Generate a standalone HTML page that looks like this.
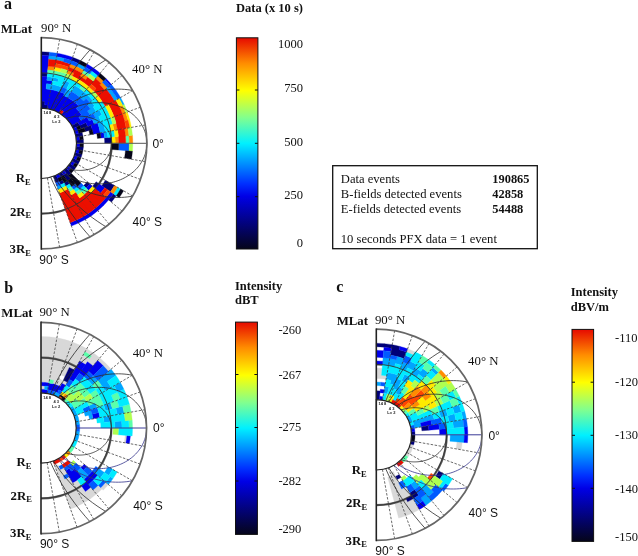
<!DOCTYPE html><html><head><meta charset="utf-8"><style>html,body{margin:0;padding:0;background:#fff;}svg{display:block;}</style></head><body>
<svg width="638" height="556" viewBox="0 0 638 556">
<defs><linearGradient id="cm" x1="0" y1="1" x2="0" y2="0"><stop offset="0" stop-color="#05051a"/><stop offset="0.25" stop-color="#0000e6"/><stop offset="0.31" stop-color="#0030ff"/><stop offset="0.5" stop-color="#00f0ff"/><stop offset="0.62" stop-color="#80ff90"/><stop offset="0.75" stop-color="#ffff00"/><stop offset="0.88" stop-color="#ff8c00"/><stop offset="1.0" stop-color="#e60a00"/></linearGradient></defs>
<rect width="638" height="556" fill="#fff"/>
<path d="M41.30 72.90A70.40 70.40 0 0 1 41.30 213.70" stroke="#5e5e5e" stroke-width="2.2" fill="none"/>
<path fill="#000078" stroke="#000078" stroke-width="0.3" d="M41.30 108.10A35.20 35.20 0 0 1 44.37 108.23L44.98 101.22A42.24 42.24 0 0 0 41.30 101.06ZM41.30 76.42A66.88 66.88 0 0 1 47.13 76.67L47.44 73.17A70.40 70.40 0 0 0 41.30 72.90ZM41.30 55.30A88.00 88.00 0 0 1 48.97 55.63L49.28 52.13A91.52 91.52 0 0 0 41.30 51.78ZM44.37 108.23A35.20 35.20 0 0 1 47.41 108.63L48.02 105.17A38.72 38.72 0 0 0 44.67 104.73ZM71.40 60.61A88.00 88.00 0 0 1 78.49 63.54L79.98 60.35A91.52 91.52 0 0 0 72.60 57.30ZM71.78 125.70A35.20 35.20 0 0 1 73.20 128.42L79.58 125.45A42.24 42.24 0 0 0 77.88 122.18ZM79.58 125.45A42.24 42.24 0 0 1 80.99 128.85L87.61 126.45A49.28 49.28 0 0 0 85.96 122.47ZM84.30 127.65A45.76 45.76 0 0 1 85.50 131.46L92.30 129.63A52.80 52.80 0 0 0 90.92 125.24ZM75.30 134.19A35.20 35.20 0 0 1 75.97 137.19L82.90 135.97A42.24 42.24 0 0 0 82.10 132.37ZM76.37 140.23A35.20 35.20 0 0 1 76.50 143.30L83.54 143.30A42.24 42.24 0 0 0 83.38 139.62ZM104.42 137.78A63.36 63.36 0 0 1 104.66 143.30L111.70 143.30A70.40 70.40 0 0 0 111.43 137.16ZM76.37 146.37A35.20 35.20 0 0 1 75.97 149.41L82.90 150.63A42.24 42.24 0 0 0 83.38 146.98ZM75.30 152.41A35.20 35.20 0 0 1 74.38 155.34L80.99 157.75A42.24 42.24 0 0 0 82.10 154.23ZM73.20 158.18A35.20 35.20 0 0 1 71.78 160.90L77.88 164.42A42.24 42.24 0 0 0 79.58 161.15ZM105.32 180.26A73.92 73.92 0 0 1 101.85 185.70L110.50 191.76A84.48 84.48 0 0 0 114.46 185.54ZM70.13 163.49A35.20 35.20 0 0 1 68.26 165.93L73.66 170.45A42.24 42.24 0 0 0 75.90 167.53ZM96.08 181.66A66.88 66.88 0 0 1 92.53 186.29L95.23 188.55A70.40 70.40 0 0 0 98.97 183.68ZM113.39 193.77A88.00 88.00 0 0 1 108.71 199.87L111.41 202.13A91.52 91.52 0 0 0 116.27 195.79ZM87.14 181.76A59.84 59.84 0 0 1 83.61 185.61L86.10 188.10A63.36 63.36 0 0 0 89.84 184.03ZM66.19 168.19A35.20 35.20 0 0 1 63.93 170.26L68.45 175.66A42.24 42.24 0 0 0 71.17 173.17ZM66.19 172.96A38.72 38.72 0 0 1 63.51 175.02L67.55 180.78A45.76 45.76 0 0 0 70.71 178.35ZM61.49 172.13A35.20 35.20 0 0 1 58.90 173.78L60.66 176.83A38.72 38.72 0 0 0 63.51 175.02ZM67.55 180.78A45.76 45.76 0 0 1 64.18 182.93L65.94 185.98A49.28 49.28 0 0 0 69.57 183.67ZM62.42 179.88A42.24 42.24 0 0 1 59.15 181.58L60.64 184.77A45.76 45.76 0 0 0 64.18 182.93ZM56.18 175.20A35.20 35.20 0 0 1 53.34 176.38L55.75 182.99A42.24 42.24 0 0 0 59.15 181.58Z"/>
<path fill="#0000ee" stroke="#0000ee" stroke-width="0.3" d="M41.30 101.06A42.24 42.24 0 0 1 44.98 101.22L47.13 76.67A66.88 66.88 0 0 0 41.30 76.42ZM41.30 72.90A70.40 70.40 0 0 1 47.44 73.17L48.97 55.63A88.00 88.00 0 0 0 41.30 55.30ZM44.67 104.73A38.72 38.72 0 0 1 48.02 105.17L50.77 89.57A54.56 54.56 0 0 0 46.06 88.95ZM46.52 83.69A59.84 59.84 0 0 1 51.69 84.37L52.30 80.90A63.36 63.36 0 0 0 46.82 80.18ZM47.41 108.63A35.20 35.20 0 0 1 50.41 109.30L55.42 90.60A54.56 54.56 0 0 0 50.77 89.57ZM56.58 56.64A88.00 88.00 0 0 1 64.08 58.30L64.99 54.90A91.52 91.52 0 0 0 57.19 53.17ZM50.41 109.30A35.20 35.20 0 0 1 53.34 110.22L59.96 92.03A54.56 54.56 0 0 0 55.42 90.60ZM64.08 58.30A88.00 88.00 0 0 1 71.40 60.61L72.60 57.30A91.52 91.52 0 0 0 64.99 54.90ZM53.34 110.22A35.20 35.20 0 0 1 56.18 111.40L64.36 93.85A54.56 54.56 0 0 0 59.96 92.03ZM56.18 111.40A35.20 35.20 0 0 1 58.90 112.82L67.70 97.57A52.80 52.80 0 0 0 63.61 95.45ZM60.66 109.77A38.72 38.72 0 0 1 63.51 111.58L71.58 100.05A52.80 52.80 0 0 0 67.70 97.57ZM85.30 67.09A88.00 88.00 0 0 1 91.77 71.21L93.79 68.33A91.52 91.52 0 0 0 87.06 64.04ZM61.49 114.47A35.20 35.20 0 0 1 63.93 116.34L75.24 102.85A52.80 52.80 0 0 0 71.58 100.05ZM91.77 71.21A88.00 88.00 0 0 1 97.87 75.89L100.13 73.19A91.52 91.52 0 0 0 93.79 68.33ZM63.93 116.34A35.20 35.20 0 0 1 66.19 118.41L78.64 105.96A52.80 52.80 0 0 0 75.24 102.85ZM66.19 118.41A35.20 35.20 0 0 1 68.26 120.67L79.05 111.62A49.28 49.28 0 0 0 76.15 108.45ZM104.77 79.83A89.76 89.76 0 0 1 110.06 85.60L111.41 84.47A91.52 91.52 0 0 0 106.01 78.59ZM68.26 120.67A35.20 35.20 0 0 1 70.13 123.11L81.67 115.03A49.28 49.28 0 0 0 79.05 111.62ZM70.13 123.11A35.20 35.20 0 0 1 71.78 125.70L80.93 120.42A45.76 45.76 0 0 0 78.78 117.05ZM77.88 122.18A42.24 42.24 0 0 1 79.58 125.45L89.15 120.99A52.80 52.80 0 0 0 87.03 116.90ZM73.20 128.42A35.20 35.20 0 0 1 74.38 131.26L77.68 130.06A38.72 38.72 0 0 0 76.39 126.94ZM85.96 122.47A49.28 49.28 0 0 1 87.61 126.45L94.22 124.04A56.32 56.32 0 0 0 92.34 119.50ZM74.38 131.26A35.20 35.20 0 0 1 75.30 134.19L78.70 133.28A38.72 38.72 0 0 0 77.68 130.06ZM90.92 125.24A52.80 52.80 0 0 1 92.30 129.63L99.10 127.81A59.84 59.84 0 0 0 97.53 122.83ZM92.30 129.63A52.80 52.80 0 0 1 93.30 134.13L100.23 132.91A59.84 59.84 0 0 0 99.10 127.81ZM75.97 137.19A35.20 35.20 0 0 1 76.37 140.23L79.87 139.93A38.72 38.72 0 0 0 79.43 136.58ZM100.23 132.91A59.84 59.84 0 0 1 100.91 138.08L104.42 137.78A63.36 63.36 0 0 0 103.70 132.30ZM76.50 143.30A35.20 35.20 0 0 1 76.37 146.37L79.87 146.67A38.72 38.72 0 0 0 80.02 143.30ZM75.97 149.41A35.20 35.20 0 0 1 75.30 152.41L78.70 153.32A38.72 38.72 0 0 0 79.43 150.02ZM74.38 155.34A35.20 35.20 0 0 1 73.20 158.18L76.39 159.66A38.72 38.72 0 0 0 77.68 156.54ZM71.78 160.90A35.20 35.20 0 0 1 70.13 163.49L73.02 165.51A38.72 38.72 0 0 0 74.83 162.66ZM98.97 183.68A70.40 70.40 0 0 1 95.23 188.55L100.62 193.08A77.44 77.44 0 0 0 104.74 187.72ZM110.50 191.76A84.48 84.48 0 0 1 106.02 197.60L108.71 199.87A88.00 88.00 0 0 0 113.39 193.77ZM68.26 165.93A35.20 35.20 0 0 1 66.19 168.19L68.68 170.68A38.72 38.72 0 0 0 70.96 168.19ZM89.84 184.03A63.36 63.36 0 0 1 86.10 188.10L88.59 190.59A66.88 66.88 0 0 0 92.53 186.29ZM106.02 197.60A84.48 84.48 0 0 1 101.04 203.04L103.53 205.53A88.00 88.00 0 0 0 108.71 199.87ZM101.04 203.04A84.48 84.48 0 0 1 95.60 208.02L97.87 210.71A88.00 88.00 0 0 0 103.53 205.53ZM63.93 170.26A35.20 35.20 0 0 1 61.49 172.13L63.51 175.02A38.72 38.72 0 0 0 66.19 172.96ZM95.60 208.02A84.48 84.48 0 0 1 89.76 212.50L91.77 215.39A88.00 88.00 0 0 0 97.87 210.71ZM89.76 212.50A84.48 84.48 0 0 1 83.54 216.46L85.30 219.51A88.00 88.00 0 0 0 91.77 215.39ZM58.90 173.78A35.20 35.20 0 0 1 56.18 175.20L57.66 178.39A38.72 38.72 0 0 0 60.66 176.83ZM83.54 216.46A84.48 84.48 0 0 1 77.00 219.86L78.49 223.06A88.00 88.00 0 0 0 85.30 219.51ZM77.00 219.86A84.48 84.48 0 0 1 70.19 222.69L71.40 225.99A88.00 88.00 0 0 0 78.49 223.06Z"/>
<path fill="#00a5ff" stroke="#00a5ff" stroke-width="0.3" d="M46.06 88.95A54.56 54.56 0 0 1 50.77 89.57L51.69 84.37A59.84 59.84 0 0 0 46.52 83.69ZM46.82 80.18A63.36 63.36 0 0 1 52.30 80.90L52.91 77.44A66.88 66.88 0 0 0 47.13 76.67ZM48.66 59.14A84.48 84.48 0 0 1 55.97 60.10L56.58 56.64A88.00 88.00 0 0 0 48.97 55.63ZM50.77 89.57A54.56 54.56 0 0 1 55.42 90.60L56.79 85.50A59.84 59.84 0 0 0 51.69 84.37ZM52.30 80.90A63.36 63.36 0 0 1 57.70 82.10L58.61 78.70A66.88 66.88 0 0 0 52.91 77.44ZM55.97 60.10A84.48 84.48 0 0 1 63.17 61.70L64.08 58.30A88.00 88.00 0 0 0 56.58 56.64ZM55.42 90.60A54.56 54.56 0 0 1 59.96 92.03L61.77 87.07A59.84 59.84 0 0 0 56.79 85.50ZM61.77 87.07A59.84 59.84 0 0 1 66.59 89.07L69.56 82.69A66.88 66.88 0 0 0 64.17 80.45ZM63.61 95.45A52.80 52.80 0 0 1 67.70 97.57L71.22 91.48A59.84 59.84 0 0 0 66.59 89.07ZM77.00 66.74A84.48 84.48 0 0 1 83.54 70.14L85.30 67.09A88.00 88.00 0 0 0 78.49 63.54ZM71.22 91.48A59.84 59.84 0 0 1 75.62 94.28L79.66 88.52A66.88 66.88 0 0 0 74.74 85.38ZM75.62 94.28A59.84 59.84 0 0 1 79.76 97.46L84.29 92.07A66.88 66.88 0 0 0 79.66 88.52ZM79.76 97.46A59.84 59.84 0 0 1 83.61 100.99L88.59 96.01A66.88 66.88 0 0 0 84.29 92.07ZM86.10 98.50A63.36 63.36 0 0 1 89.84 102.57L92.53 100.31A66.88 66.88 0 0 0 88.59 96.01ZM87.14 104.84A59.84 59.84 0 0 1 90.32 108.98L94.64 105.95A65.12 65.12 0 0 0 91.18 101.44ZM106.02 89.00A84.48 84.48 0 0 1 110.50 94.84L113.39 92.83A88.00 88.00 0 0 0 108.71 86.73ZM87.43 111.00A56.32 56.32 0 0 1 90.07 115.14L96.17 111.62A63.36 63.36 0 0 0 93.20 106.96ZM110.50 94.84A84.48 84.48 0 0 1 114.46 101.06L117.51 99.30A88.00 88.00 0 0 0 113.39 92.83ZM93.12 113.38A59.84 59.84 0 0 1 95.53 118.01L101.91 115.04A66.88 66.88 0 0 0 99.22 109.86ZM119.03 98.42A89.76 89.76 0 0 1 122.65 105.37L124.25 104.62A91.52 91.52 0 0 0 120.56 97.54ZM92.34 119.50A56.32 56.32 0 0 1 94.22 124.04L100.84 121.63A63.36 63.36 0 0 0 98.72 116.52ZM97.53 122.83A59.84 59.84 0 0 1 99.10 127.81L104.20 126.45A65.12 65.12 0 0 0 102.49 121.03ZM99.10 127.81A59.84 59.84 0 0 1 100.23 132.91L105.43 131.99A65.12 65.12 0 0 0 104.20 126.45ZM103.70 132.30A63.36 63.36 0 0 1 104.42 137.78L107.93 137.47A66.88 66.88 0 0 0 107.16 131.69ZM60.64 184.77A45.76 45.76 0 0 1 56.95 186.30L58.15 189.61A49.28 49.28 0 0 0 62.13 187.96Z"/>
<path fill="#00ebff" stroke="#00ebff" stroke-width="0.3" d="M47.13 76.67A66.88 66.88 0 0 1 52.91 77.44L53.52 73.97A70.40 70.40 0 0 0 47.44 73.17ZM51.69 84.37A59.84 59.84 0 0 1 56.79 85.50L57.70 82.10A63.36 63.36 0 0 0 52.30 80.90ZM52.91 77.44A66.88 66.88 0 0 1 58.61 78.70L59.52 75.30A70.40 70.40 0 0 0 53.52 73.97ZM56.79 85.50A59.84 59.84 0 0 1 61.77 87.07L65.38 77.15A70.40 70.40 0 0 0 59.52 75.30ZM64.17 80.45A66.88 66.88 0 0 1 69.56 82.69L71.05 79.50A70.40 70.40 0 0 0 65.38 77.15ZM66.59 89.07A59.84 59.84 0 0 1 71.22 91.48L76.50 82.33A70.40 70.40 0 0 0 71.05 79.50ZM74.74 85.38A66.88 66.88 0 0 1 79.66 88.52L81.68 85.63A70.40 70.40 0 0 0 76.50 82.33ZM89.76 74.10A84.48 84.48 0 0 1 95.60 78.58L97.87 75.89A88.00 88.00 0 0 0 91.77 71.21ZM84.29 92.07A66.88 66.88 0 0 1 88.59 96.01L91.08 93.52A70.40 70.40 0 0 0 86.55 89.37ZM88.59 96.01A66.88 66.88 0 0 1 92.53 100.31L95.23 98.05A70.40 70.40 0 0 0 91.08 93.52ZM91.18 101.44A65.12 65.12 0 0 1 94.64 105.95L98.97 102.92A70.40 70.40 0 0 0 95.23 98.05ZM93.20 106.96A63.36 63.36 0 0 1 96.17 111.62L105.32 106.34A73.92 73.92 0 0 0 101.85 100.90ZM99.22 109.86A66.88 66.88 0 0 1 101.91 115.04L108.29 112.06A73.92 73.92 0 0 0 105.32 106.34ZM98.72 116.52A63.36 63.36 0 0 1 100.84 121.63L110.76 118.02A73.92 73.92 0 0 0 108.29 112.06ZM102.49 121.03A65.12 65.12 0 0 1 104.20 126.45L112.70 124.17A73.92 73.92 0 0 0 110.76 118.02ZM104.20 126.45A65.12 65.12 0 0 1 105.43 131.99L110.63 131.08A70.40 70.40 0 0 0 109.30 125.08ZM107.16 131.69A66.88 66.88 0 0 1 107.93 137.47L114.94 136.86A73.92 73.92 0 0 0 114.10 130.46ZM117.51 187.30A88.00 88.00 0 0 1 113.39 193.77L116.27 195.79A91.52 91.52 0 0 0 120.56 189.06ZM83.61 185.61A59.84 59.84 0 0 1 79.76 189.14L82.03 191.84A63.36 63.36 0 0 0 86.10 188.10ZM77.50 186.44A56.32 56.32 0 0 1 73.60 189.43L75.62 192.32A59.84 59.84 0 0 0 79.76 189.14ZM69.57 183.67A49.28 49.28 0 0 1 65.94 185.98L67.70 189.03A52.80 52.80 0 0 0 71.58 186.55ZM64.18 182.93A45.76 45.76 0 0 1 60.64 184.77L62.13 187.96A49.28 49.28 0 0 0 65.94 185.98Z"/>
<path fill="#5affaa" stroke="#5affaa" stroke-width="0.3" d="M47.44 73.17A70.40 70.40 0 0 1 53.52 73.97L54.14 70.50A73.92 73.92 0 0 0 47.74 69.66ZM53.52 73.97A70.40 70.40 0 0 1 59.52 75.30L60.43 71.90A73.92 73.92 0 0 0 54.14 70.50ZM59.52 75.30A70.40 70.40 0 0 1 65.38 77.15L66.58 73.84A73.92 73.92 0 0 0 60.43 71.90ZM81.78 73.19A80.96 80.96 0 0 1 87.74 76.98L89.76 74.10A84.48 84.48 0 0 0 83.54 70.14ZM79.66 88.52A66.88 66.88 0 0 1 84.29 92.07L86.55 89.37A70.40 70.40 0 0 0 81.68 85.63ZM125.46 135.94A84.48 84.48 0 0 1 125.78 143.30L129.30 143.30A88.00 88.00 0 0 0 128.97 135.63ZM86.10 188.10A63.36 63.36 0 0 1 82.03 191.84L84.29 194.53A66.88 66.88 0 0 0 88.59 190.59ZM79.76 189.14A59.84 59.84 0 0 1 75.62 192.32L77.64 195.20A63.36 63.36 0 0 0 82.03 191.84ZM71.58 186.55A52.80 52.80 0 0 1 67.70 189.03L69.46 192.07A56.32 56.32 0 0 0 73.60 189.43Z"/>
<path fill="#ff8c00" stroke="#ff8c00" stroke-width="0.3" d="M47.74 69.66A73.92 73.92 0 0 1 54.14 70.50L54.75 67.04A77.44 77.44 0 0 0 48.05 66.15ZM66.58 73.84A73.92 73.92 0 0 1 72.54 76.31L74.03 73.12A77.44 77.44 0 0 0 67.79 70.53ZM68.99 67.22A80.96 80.96 0 0 1 75.52 69.93L77.00 66.74A84.48 84.48 0 0 0 70.19 63.91ZM75.52 69.93A80.96 80.96 0 0 1 81.78 73.19L83.54 70.14A84.48 84.48 0 0 0 77.00 66.74ZM80.02 76.23A77.44 77.44 0 0 1 85.72 79.86L87.74 76.98A80.96 80.96 0 0 0 81.78 73.19ZM95.60 78.58A84.48 84.48 0 0 1 101.04 83.56L103.53 81.07A88.00 88.00 0 0 0 97.87 75.89ZM99.79 84.81A82.72 82.72 0 0 1 104.67 90.13L107.36 87.87A86.24 86.24 0 0 0 102.28 82.32ZM119.46 106.85A86.24 86.24 0 0 1 122.34 113.80L125.65 112.60A89.76 89.76 0 0 0 122.65 105.37ZM122.34 113.80A86.24 86.24 0 0 1 124.60 120.98L128.00 120.07A89.76 89.76 0 0 0 125.65 112.60ZM112.70 124.17A73.92 73.92 0 0 1 114.10 130.46L117.56 129.85A77.44 77.44 0 0 0 116.10 123.26ZM124.50 128.63A84.48 84.48 0 0 1 125.46 135.94L128.97 135.63A88.00 88.00 0 0 0 127.96 128.02ZM114.94 136.86A73.92 73.92 0 0 1 115.22 143.30L118.74 143.30A77.44 77.44 0 0 0 118.45 136.55ZM128.97 135.63A88.00 88.00 0 0 1 129.30 143.30L132.82 143.30A91.52 91.52 0 0 0 132.47 135.32ZM114.46 185.54A84.48 84.48 0 0 1 110.50 191.76L113.39 193.77A88.00 88.00 0 0 0 117.51 187.30Z"/>
<path fill="#eb0f00" stroke="#eb0f00" stroke-width="0.3" d="M48.05 66.15A77.44 77.44 0 0 1 54.75 67.04L55.97 60.10A84.48 84.48 0 0 0 48.66 59.14ZM55.36 63.57A80.96 80.96 0 0 1 62.25 65.10L63.17 61.70A84.48 84.48 0 0 0 55.97 60.10ZM62.25 65.10A80.96 80.96 0 0 1 68.99 67.22L70.19 63.91A84.48 84.48 0 0 0 63.17 61.70ZM67.79 70.53A77.44 77.44 0 0 1 74.03 73.12L75.52 69.93A80.96 80.96 0 0 0 68.99 67.22ZM72.54 76.31A73.92 73.92 0 0 1 78.26 79.28L81.78 73.19A80.96 80.96 0 0 0 75.52 69.93ZM58.90 112.82A35.20 35.20 0 0 1 61.49 114.47L63.51 111.58A38.72 38.72 0 0 0 60.66 109.77ZM78.26 79.28A73.92 73.92 0 0 1 83.70 82.75L85.72 79.86A77.44 77.44 0 0 0 80.02 76.23ZM83.70 82.75A73.92 73.92 0 0 1 88.81 86.67L93.34 81.28A80.96 80.96 0 0 0 87.74 76.98ZM91.08 83.98A77.44 77.44 0 0 1 96.06 88.54L101.04 83.56A84.48 84.48 0 0 0 95.60 78.58ZM93.57 91.03A73.92 73.92 0 0 1 97.93 95.79L104.67 90.13A82.72 82.72 0 0 0 99.79 84.81ZM97.93 95.79A73.92 73.92 0 0 1 101.85 100.90L110.50 94.84A84.48 84.48 0 0 0 106.02 89.00ZM101.85 100.90A73.92 73.92 0 0 1 105.32 106.34L114.46 101.06A84.48 84.48 0 0 0 110.50 94.84ZM108.37 104.58A77.44 77.44 0 0 1 111.48 110.57L119.46 106.85A86.24 86.24 0 0 0 115.99 100.18ZM111.48 110.57A77.44 77.44 0 0 1 114.07 116.81L122.34 113.80A86.24 86.24 0 0 0 119.46 106.85ZM114.07 116.81A77.44 77.44 0 0 1 116.10 123.26L124.60 120.98A86.24 86.24 0 0 0 122.34 113.80ZM116.10 123.26A77.44 77.44 0 0 1 117.56 129.85L126.23 128.32A86.24 86.24 0 0 0 124.60 120.98ZM117.56 129.85A77.44 77.44 0 0 1 118.45 136.55L125.46 135.94A84.48 84.48 0 0 0 124.50 128.63ZM118.45 136.55A77.44 77.44 0 0 1 118.74 143.30L125.78 143.30A84.48 84.48 0 0 0 125.46 135.94ZM104.74 187.72A77.44 77.44 0 0 1 100.62 193.08L103.32 195.34A80.96 80.96 0 0 0 107.62 189.74ZM95.23 188.55A70.40 70.40 0 0 1 91.08 193.08L101.04 203.04A84.48 84.48 0 0 0 106.02 197.60ZM88.59 190.59A66.88 66.88 0 0 1 84.29 194.53L95.60 208.02A84.48 84.48 0 0 0 101.04 203.04ZM84.29 194.53A66.88 66.88 0 0 1 79.66 198.08L89.76 212.50A84.48 84.48 0 0 0 95.60 208.02ZM75.62 192.32A59.84 59.84 0 0 1 71.22 195.12L83.54 216.46A84.48 84.48 0 0 0 89.76 212.50ZM67.70 189.03A52.80 52.80 0 0 1 63.61 191.15L77.00 219.86A84.48 84.48 0 0 0 83.54 216.46ZM63.61 191.15A52.80 52.80 0 0 1 59.36 192.92L70.19 222.69A84.48 84.48 0 0 0 77.00 219.86Z"/>
<path fill="#005aff" stroke="#005aff" stroke-width="0.3" d="M48.97 55.63A88.00 88.00 0 0 1 56.58 56.64L57.19 53.17A91.52 91.52 0 0 0 49.28 52.13ZM63.17 61.70A84.48 84.48 0 0 1 70.19 63.91L71.40 60.61A88.00 88.00 0 0 0 64.08 58.30ZM59.96 92.03A54.56 54.56 0 0 1 64.36 93.85L66.59 89.07A59.84 59.84 0 0 0 61.77 87.07ZM70.19 63.91A84.48 84.48 0 0 1 77.00 66.74L78.49 63.54A88.00 88.00 0 0 0 71.40 60.61ZM67.70 97.57A52.80 52.80 0 0 1 71.58 100.05L75.62 94.28A59.84 59.84 0 0 0 71.22 91.48ZM83.54 70.14A84.48 84.48 0 0 1 89.76 74.10L91.77 71.21A88.00 88.00 0 0 0 85.30 67.09ZM71.58 100.05A52.80 52.80 0 0 1 75.24 102.85L79.76 97.46A59.84 59.84 0 0 0 75.62 94.28ZM75.24 102.85A52.80 52.80 0 0 1 78.64 105.96L83.61 100.99A59.84 59.84 0 0 0 79.76 97.46ZM76.15 108.45A49.28 49.28 0 0 1 79.05 111.62L89.84 102.57A63.36 63.36 0 0 0 86.10 98.50ZM102.28 82.32A86.24 86.24 0 0 1 107.36 87.87L110.06 85.60A89.76 89.76 0 0 0 104.77 79.83ZM79.05 111.62A49.28 49.28 0 0 1 81.67 115.03L90.32 108.98A59.84 59.84 0 0 0 87.14 104.84ZM108.71 86.73A88.00 88.00 0 0 1 113.39 92.83L116.27 90.81A91.52 91.52 0 0 0 111.41 84.47ZM78.78 117.05A45.76 45.76 0 0 1 80.93 120.42L90.07 115.14A56.32 56.32 0 0 0 87.43 111.00ZM113.39 92.83A88.00 88.00 0 0 1 117.51 99.30L120.56 97.54A91.52 91.52 0 0 0 116.27 90.81ZM87.03 116.90A52.80 52.80 0 0 1 89.15 120.99L95.53 118.01A59.84 59.84 0 0 0 93.12 113.38ZM118.74 143.30A77.44 77.44 0 0 1 118.45 150.05L128.97 150.97A88.00 88.00 0 0 0 129.30 143.30ZM81.12 183.12A56.32 56.32 0 0 1 77.50 186.44L79.76 189.14A59.84 59.84 0 0 0 83.61 185.61ZM75.24 183.75A52.80 52.80 0 0 1 71.58 186.55L73.60 189.43A56.32 56.32 0 0 0 77.50 186.44ZM59.15 181.58A42.24 42.24 0 0 1 55.75 182.99L56.95 186.30A45.76 45.76 0 0 0 60.64 184.77Z"/>
<path fill="#ffeb00" stroke="#ffeb00" stroke-width="0.3" d="M54.14 70.50A73.92 73.92 0 0 1 60.43 71.90L61.34 68.50A77.44 77.44 0 0 0 54.75 67.04ZM71.05 79.50A70.40 70.40 0 0 1 76.50 82.33L78.26 79.28A73.92 73.92 0 0 0 72.54 76.31ZM76.50 82.33A70.40 70.40 0 0 1 81.68 85.63L83.70 82.75A73.92 73.92 0 0 0 78.26 79.28ZM81.68 85.63A70.40 70.40 0 0 1 86.55 89.37L88.81 86.67A73.92 73.92 0 0 0 83.70 82.75ZM86.55 89.37A70.40 70.40 0 0 1 91.08 93.52L93.57 91.03A73.92 73.92 0 0 0 88.81 86.67ZM95.23 98.05A70.40 70.40 0 0 1 98.97 102.92L101.85 100.90A73.92 73.92 0 0 0 97.93 95.79ZM105.32 106.34A73.92 73.92 0 0 1 108.29 112.06L111.48 110.57A77.44 77.44 0 0 0 108.37 104.58ZM115.99 100.18A86.24 86.24 0 0 1 119.46 106.85L122.65 105.37A89.76 89.76 0 0 0 119.03 98.42ZM108.29 112.06A73.92 73.92 0 0 1 110.76 118.02L114.07 116.81A77.44 77.44 0 0 0 111.48 110.57ZM125.65 112.60A89.76 89.76 0 0 1 128.00 120.07L129.70 119.61A91.52 91.52 0 0 0 127.30 112.00ZM109.30 125.08A70.40 70.40 0 0 1 110.63 131.08L114.10 130.46A73.92 73.92 0 0 0 112.70 124.17ZM128.00 120.07A89.76 89.76 0 0 1 129.70 127.71L131.43 127.41A91.52 91.52 0 0 0 129.70 119.61ZM114.10 130.46A73.92 73.92 0 0 1 114.94 136.86L118.45 136.55A77.44 77.44 0 0 0 117.56 129.85ZM111.43 137.16A70.40 70.40 0 0 1 111.70 143.30L115.22 143.30A73.92 73.92 0 0 0 114.94 136.86ZM92.53 186.29A66.88 66.88 0 0 1 88.59 190.59L91.08 193.08A70.40 70.40 0 0 0 95.23 188.55ZM82.03 191.84A63.36 63.36 0 0 1 77.64 195.20L79.66 198.08A66.88 66.88 0 0 0 84.29 194.53ZM73.60 189.43A56.32 56.32 0 0 1 69.46 192.07L71.22 195.12A59.84 59.84 0 0 0 75.62 192.32ZM65.94 185.98A49.28 49.28 0 0 1 62.13 187.96L63.61 191.15A52.80 52.80 0 0 0 67.70 189.03ZM62.13 187.96A49.28 49.28 0 0 1 58.15 189.61L59.36 192.92A52.80 52.80 0 0 0 63.61 191.15Z"/>
<path fill="#ff4600" stroke="#ff4600" stroke-width="0.3" d="M54.75 67.04A77.44 77.44 0 0 1 61.34 68.50L62.25 65.10A80.96 80.96 0 0 0 55.36 63.57ZM61.34 68.50A77.44 77.44 0 0 1 67.79 70.53L68.99 67.22A80.96 80.96 0 0 0 62.25 65.10ZM88.81 86.67A73.92 73.92 0 0 1 93.57 91.03L96.06 88.54A77.44 77.44 0 0 0 91.08 83.98ZM124.60 120.98A86.24 86.24 0 0 1 126.23 128.32L129.70 127.71A89.76 89.76 0 0 0 128.00 120.07ZM107.62 189.74A80.96 80.96 0 0 1 103.32 195.34L106.02 197.60A84.48 84.48 0 0 0 110.50 191.76Z"/>
<path fill="#afff50" stroke="#afff50" stroke-width="0.3" d="M60.43 71.90A73.92 73.92 0 0 1 66.58 73.84L67.79 70.53A77.44 77.44 0 0 0 61.34 68.50ZM65.38 77.15A70.40 70.40 0 0 1 71.05 79.50L72.54 76.31A73.92 73.92 0 0 0 66.58 73.84ZM87.74 76.98A80.96 80.96 0 0 1 93.34 81.28L95.60 78.58A84.48 84.48 0 0 0 89.76 74.10ZM91.08 93.52A70.40 70.40 0 0 1 95.23 98.05L97.93 95.79A73.92 73.92 0 0 0 93.57 91.03ZM122.65 105.37A89.76 89.76 0 0 1 125.65 112.60L127.30 112.00A91.52 91.52 0 0 0 124.25 104.62ZM110.76 118.02A73.92 73.92 0 0 1 112.70 124.17L116.10 123.26A77.44 77.44 0 0 0 114.07 116.81ZM127.96 128.02A88.00 88.00 0 0 1 128.97 135.63L132.47 135.32A91.52 91.52 0 0 0 131.43 127.41ZM129.30 143.30A88.00 88.00 0 0 1 128.97 150.97L132.47 151.28A91.52 91.52 0 0 0 132.82 143.30Z"/>
<path fill="#050519" stroke="#050519" stroke-width="0.3" d="M78.49 63.54A88.00 88.00 0 0 1 85.30 67.09L87.06 64.04A91.52 91.52 0 0 0 79.98 60.35ZM97.87 75.89A88.00 88.00 0 0 1 103.53 81.07L106.01 78.59A91.52 91.52 0 0 0 100.13 73.19ZM76.39 126.94A38.72 38.72 0 0 1 77.68 130.06L80.99 128.85A42.24 42.24 0 0 0 79.58 125.45ZM77.68 130.06A38.72 38.72 0 0 1 78.70 133.28L85.50 131.46A45.76 45.76 0 0 0 84.30 127.65ZM88.90 130.55A49.28 49.28 0 0 1 89.83 134.74L93.30 134.13A52.80 52.80 0 0 0 92.30 129.63ZM79.43 136.58A38.72 38.72 0 0 1 79.87 139.93L83.38 139.62A42.24 42.24 0 0 0 82.90 135.97ZM96.76 133.52A56.32 56.32 0 0 1 97.41 138.39L100.91 138.08A59.84 59.84 0 0 0 100.23 132.91ZM80.02 143.30A38.72 38.72 0 0 1 79.87 146.67L83.38 146.98A42.24 42.24 0 0 0 83.54 143.30ZM111.70 143.30A70.40 70.40 0 0 1 111.43 149.44L118.45 150.05A77.44 77.44 0 0 0 118.74 143.30ZM125.46 150.66A84.48 84.48 0 0 1 124.50 157.97L131.43 159.19A91.52 91.52 0 0 0 132.47 151.28ZM79.43 150.02A38.72 38.72 0 0 1 78.70 153.32L82.10 154.23A42.24 42.24 0 0 0 82.90 150.63ZM77.68 156.54A38.72 38.72 0 0 1 76.39 159.66L79.58 161.15A42.24 42.24 0 0 0 80.99 157.75ZM74.83 162.66A38.72 38.72 0 0 1 73.02 165.51L75.90 167.53A42.24 42.24 0 0 0 77.88 164.42ZM120.56 189.06A91.52 91.52 0 0 1 116.27 195.79L119.15 197.81A95.04 95.04 0 0 0 123.61 190.82ZM70.96 168.19A38.72 38.72 0 0 1 68.68 170.68L71.17 173.17A42.24 42.24 0 0 0 73.66 170.45ZM71.17 173.17A42.24 42.24 0 0 1 68.45 175.66L77.50 186.44A56.32 56.32 0 0 0 81.12 183.12ZM70.71 178.35A45.76 45.76 0 0 1 67.55 180.78L71.58 186.55A52.80 52.80 0 0 0 75.24 183.75ZM63.51 175.02A38.72 38.72 0 0 1 60.66 176.83L64.18 182.93A45.76 45.76 0 0 0 67.55 180.78ZM60.66 176.83A38.72 38.72 0 0 1 57.66 178.39L59.15 181.58A42.24 42.24 0 0 0 62.42 179.88Z"/>
<path d="M47.41 177.97L59.64 247.30M53.34 176.38L77.42 242.53M58.90 173.78L94.10 234.75M63.93 170.26L109.18 224.19M68.26 165.93L122.19 211.18M71.78 160.90L132.75 196.10M74.38 155.34L140.53 179.42M75.97 149.41L145.30 161.64M75.97 137.19L145.30 124.96M74.38 131.26L140.53 107.18M71.78 125.70L132.75 90.50M68.26 120.67L122.19 75.42M63.93 116.34L109.18 62.41M58.90 112.82L94.10 51.85M53.34 110.22L77.42 44.07M47.41 108.63L59.64 39.30" stroke="#3a3a3a" stroke-width="0.75" stroke-dasharray="2.5 1.5" fill="none"/>
<path d="M66.19 118.41L67.17 118.09L68.17 117.80L69.18 117.53L70.19 117.28L71.22 117.06L72.25 116.86L73.30 116.69L74.34 116.54L75.40 116.42L76.45 116.33L77.51 116.26L78.58 116.22L79.64 116.20L80.71 116.22L81.77 116.26L82.83 116.33L83.89 116.43L84.94 116.56L85.99 116.71L87.03 116.90L88.06 117.11L89.08 117.36L90.10 117.63L91.10 117.93L92.09 118.25L93.07 118.61L94.03 118.99L94.97 119.40L95.90 119.84L96.82 120.30L97.71 120.79L98.58 121.31L99.44 121.85L100.27 122.42L101.08 123.01L101.86 123.62L102.62 124.26L103.36 124.92L104.06 125.60L104.75 126.30L105.40 127.02L106.02 127.76L106.62 128.52L107.18 129.30L107.72 130.09L108.22 130.90L108.69 131.72L109.13 132.56L109.54 133.41L109.91 134.27L110.25 135.14L110.55 136.02L110.82 136.91L111.05 137.81L111.25 138.72L111.41 139.63L111.54 140.54L111.63 141.46L111.68 142.38L111.70 143.30M66.19 168.19L67.17 168.51L68.17 168.80L69.18 169.07L70.19 169.32L71.22 169.54L72.25 169.74L73.30 169.91L74.34 170.06L75.40 170.18L76.45 170.27L77.51 170.34L78.58 170.38L79.64 170.40L80.71 170.38L81.77 170.34L82.83 170.27L83.89 170.17L84.94 170.04L85.99 169.89L87.03 169.70L88.06 169.49L89.08 169.24L90.10 168.97L91.10 168.67L92.09 168.35L93.07 167.99L94.03 167.61L94.97 167.20L95.90 166.76L96.82 166.30L97.71 165.81L98.58 165.29L99.44 164.75L100.27 164.18L101.08 163.59L101.86 162.98L102.62 162.34L103.36 161.68L104.06 161.00L104.75 160.30L105.40 159.58L106.02 158.84L106.62 158.08L107.18 157.30L107.72 156.51L108.22 155.70L108.69 154.88L109.13 154.04L109.54 153.19L109.91 152.33L110.25 151.46L110.55 150.58L110.82 149.69L111.05 148.79L111.25 147.88L111.41 146.97L111.54 146.06L111.63 145.14L111.68 144.22L111.70 143.30M61.62 114.56L63.02 113.60L64.46 112.67L65.94 111.76L67.47 110.88L69.04 110.03L70.65 109.22L72.30 108.45L73.98 107.72L75.69 107.02L77.44 106.37L79.22 105.77L81.03 105.22L82.86 104.71L84.71 104.26L86.59 103.86L88.48 103.52L90.39 103.23L92.31 103.00L94.24 102.82L96.17 102.71L98.11 102.66L100.05 102.67L101.99 102.74L103.93 102.87L105.86 103.07L107.77 103.33L109.67 103.66L111.56 104.05L113.42 104.50L115.26 105.01L117.08 105.59L118.86 106.23L120.62 106.93L122.34 107.70L124.02 108.52L125.66 109.40L127.26 110.34L128.81 111.33L130.31 112.38L131.76 113.48L133.16 114.63L134.50 115.83L135.78 117.08L137.00 118.38L138.16 119.72L139.25 121.10L140.28 122.51L141.24 123.97L142.13 125.46L142.94 126.98L143.69 128.53L144.35 130.10L144.95 131.70L145.46 133.32L145.90 134.96L146.26 136.61L146.54 138.27L146.74 139.94L146.86 141.62L146.90 143.30M61.62 172.04L63.02 173.00L64.46 173.93L65.94 174.84L67.47 175.72L69.04 176.57L70.65 177.38L72.30 178.15L73.98 178.88L75.69 179.58L77.44 180.23L79.22 180.83L81.03 181.38L82.86 181.89L84.71 182.34L86.59 182.74L88.48 183.08L90.39 183.37L92.31 183.60L94.24 183.78L96.17 183.89L98.11 183.94L100.05 183.93L101.99 183.86L103.93 183.73L105.86 183.53L107.77 183.27L109.67 182.94L111.56 182.55L113.42 182.10L115.26 181.59L117.08 181.01L118.86 180.37L120.62 179.67L122.34 178.90L124.02 178.08L125.66 177.20L127.26 176.26L128.81 175.27L130.31 174.22L131.76 173.12L133.16 171.97L134.50 170.77L135.78 169.52L137.00 168.22L138.16 166.88L139.25 165.50L140.28 164.09L141.24 162.63L142.13 161.14L142.94 159.62L143.69 158.07L144.35 156.50L144.95 154.90L145.46 153.28L145.90 151.64L146.26 149.99L146.54 148.33L146.74 146.66L146.86 144.98L146.90 143.30M58.90 112.82L60.54 111.29L62.25 109.77L64.05 108.27L65.92 106.80L67.87 105.36L69.89 103.95L71.99 102.57L74.16 101.24L76.39 99.96L78.69 98.74L81.06 97.56L83.48 96.45L85.96 95.40L88.50 94.43L91.08 93.52L93.71 92.69L96.38 91.94L99.09 91.27L101.83 90.69L104.59 90.19L107.39 89.78L110.20 89.47L113.02 89.25L115.85 89.13L118.69 89.11L121.53 89.19L124.36 89.36L127.17 89.64L129.97 90.02L132.75 90.50L132.75 90.50M58.90 173.78L60.54 175.31L62.25 176.83L64.05 178.33L65.92 179.80L67.87 181.24L69.89 182.65L71.99 184.03L74.16 185.36L76.39 186.64L78.69 187.86L81.06 189.04L83.48 190.15L85.96 191.20L88.50 192.17L91.08 193.08L93.71 193.91L96.38 194.66L99.09 195.33L101.83 195.91L104.59 196.41L107.39 196.82L110.20 197.13L113.02 197.35L115.85 197.47L118.69 197.49L121.53 197.41L124.36 197.24L127.17 196.96L129.97 196.58L132.75 196.10L132.75 196.10M53.75 110.37L55.84 107.07L58.13 103.68L60.63 100.23L63.34 96.73L66.26 93.19L69.40 89.63L72.75 86.06L76.32 82.50L80.11 78.97L84.10 75.47L88.31 72.03L92.72 68.66L97.33 65.38L102.14 62.19L105.97 59.82M53.75 176.23L55.84 179.53L58.13 182.92L60.63 186.37L63.34 189.87L66.26 193.41L69.40 196.97L72.75 200.54L76.32 204.10L80.11 207.63L84.10 211.13L88.31 214.57L92.72 217.94L97.33 221.22L102.14 224.41L105.97 226.78M50.71 109.38L53.08 104.14L55.81 98.61L58.90 92.84L62.37 86.85L66.24 80.65L70.52 74.30L75.22 67.81L80.34 61.21L85.89 54.55L90.18 49.70M50.71 177.22L53.08 182.46L55.81 187.99L58.90 193.76L62.37 199.75L66.24 205.95L70.52 212.30L75.22 218.79L80.34 225.39L85.89 232.05L90.18 236.90" stroke="#2a2a2a" stroke-width="0.8" fill="none"/>
<path d="" stroke="#34348c" stroke-width="0.8" fill="none"/>
<path d="M76.50 143.30L146.90 143.30" stroke="#555" stroke-width="1"/>
<path d="M41.30 72.90A70.40 70.40 0 0 1 41.30 213.70" stroke="#333" stroke-width="0.9" fill="none"/>
<path d="M41.30 108.10A35.20 35.20 0 0 1 41.30 178.50Z" fill="#fff" stroke="#222" stroke-width="1.2"/>
<path d="M41.30 37.70A105.60 105.60 0 0 1 41.30 248.90" stroke="#666" stroke-width="1.7" fill="none"/>
<path d="M41.30 36.90L41.30 249.70" stroke="#222" stroke-width="1.6"/>
<g font-family="Liberation Sans, sans-serif" font-size="4" font-weight="bold" fill="#222"><text x="43.5" y="113.8">14 8</text><text x="53.8" y="118.3">4 3</text><text x="52.3" y="122.8">L= 2</text></g>
<path fill="#d8d8d8" stroke="#d8d8d8" stroke-width="0.3" d="M41.00 389.28A38.72 38.72 0 0 1 44.37 389.43L44.68 385.92A42.24 42.24 0 0 0 41.00 385.76ZM41.00 382.24A45.76 45.76 0 0 1 44.99 382.41L48.98 336.83A91.52 91.52 0 0 0 41.00 336.48ZM44.99 382.41A45.76 45.76 0 0 1 48.95 382.94L56.89 337.87A91.52 91.52 0 0 0 48.98 336.83ZM49.56 379.47A49.28 49.28 0 0 1 53.75 380.40L64.69 339.60A91.52 91.52 0 0 0 56.89 337.87ZM52.84 383.80A45.76 45.76 0 0 1 56.65 385.00L72.30 342.00A91.52 91.52 0 0 0 64.69 339.60ZM56.65 385.00A45.76 45.76 0 0 1 60.34 386.53L63.31 380.15A52.80 52.80 0 0 0 59.06 378.38ZM60.26 375.08A56.32 56.32 0 0 1 64.80 376.96L79.68 345.05A91.52 91.52 0 0 0 72.30 342.00ZM61.83 383.34A49.28 49.28 0 0 1 65.64 385.32L67.40 382.27A52.80 52.80 0 0 0 63.31 380.15ZM69.26 367.39A66.88 66.88 0 0 1 74.44 370.08L86.76 348.74A91.52 91.52 0 0 0 79.68 345.05ZM79.72 360.93A77.44 77.44 0 0 1 85.42 364.56L89.46 358.80A84.48 84.48 0 0 0 83.24 354.84ZM85.00 351.79A88.00 88.00 0 0 1 91.47 355.91L93.49 353.03A91.52 91.52 0 0 0 86.76 348.74ZM87.44 361.68A80.96 80.96 0 0 1 93.04 365.98L99.83 357.89A91.52 91.52 0 0 0 93.49 353.03ZM97.57 360.59A88.00 88.00 0 0 1 103.23 365.77L105.71 363.29A91.52 91.52 0 0 0 99.83 357.89ZM103.23 365.77A88.00 88.00 0 0 1 108.41 371.43L111.11 369.17A91.52 91.52 0 0 0 105.71 363.29ZM125.16 435.36A84.48 84.48 0 0 1 124.20 442.67L125.93 442.98A86.24 86.24 0 0 0 126.91 435.52ZM105.72 482.30A84.48 84.48 0 0 1 100.74 487.74L103.23 490.23A88.00 88.00 0 0 0 108.41 484.57ZM98.25 485.25A80.96 80.96 0 0 1 93.04 490.02L96.43 494.06A86.24 86.24 0 0 0 101.98 488.98ZM90.78 487.32A77.44 77.44 0 0 1 85.42 491.44L90.47 498.64A86.24 86.24 0 0 0 96.43 494.06ZM77.34 479.90A63.36 63.36 0 0 1 72.68 482.87L84.12 502.69A86.24 86.24 0 0 0 90.47 498.64ZM63.88 467.63A45.76 45.76 0 0 1 60.34 469.47L63.31 475.85A52.80 52.80 0 0 0 67.40 473.73ZM69.16 476.77A56.32 56.32 0 0 1 64.80 479.04L77.45 506.16A86.24 86.24 0 0 0 84.12 502.69ZM58.11 464.69A40.48 40.48 0 0 1 54.84 466.04L70.50 509.04A86.24 86.24 0 0 0 77.45 506.16Z"/>
<path d="M41.00 357.60A70.40 70.40 0 0 1 41.00 498.40" stroke="#5e5e5e" stroke-width="2.2" fill="none"/>
<path fill="#0000ee" stroke="#0000ee" stroke-width="0.3" d="M41.00 392.80A35.20 35.20 0 0 1 44.07 392.93L44.37 389.43A38.72 38.72 0 0 0 41.00 389.28ZM41.00 385.76A42.24 42.24 0 0 1 44.68 385.92L44.99 382.41A45.76 45.76 0 0 0 41.00 382.24ZM44.07 392.93A35.20 35.20 0 0 1 47.11 393.33L47.72 389.87A38.72 38.72 0 0 0 44.37 389.43ZM44.68 385.92A42.24 42.24 0 0 1 48.33 386.40L48.95 382.94A45.76 45.76 0 0 0 44.99 382.41ZM47.72 389.87A38.72 38.72 0 0 1 51.02 390.60L52.84 383.80A45.76 45.76 0 0 0 48.95 382.94ZM51.02 390.60A38.72 38.72 0 0 1 54.24 391.62L56.65 385.00A45.76 45.76 0 0 0 52.84 383.80ZM54.24 391.62A38.72 38.72 0 0 1 57.36 392.91L60.34 386.53A45.76 45.76 0 0 0 56.65 385.00ZM58.85 389.72A42.24 42.24 0 0 1 62.12 391.42L65.64 385.32A49.28 49.28 0 0 0 61.83 383.34ZM69.16 379.23A56.32 56.32 0 0 1 73.30 381.87L85.42 364.56A77.44 77.44 0 0 0 79.72 360.93ZM79.36 373.22A66.88 66.88 0 0 1 83.99 376.77L93.04 365.98A80.96 80.96 0 0 0 87.44 361.68ZM88.51 371.37A73.92 73.92 0 0 1 93.27 375.73L103.23 365.77A88.00 88.00 0 0 0 97.57 360.59ZM92.00 414.33A52.80 52.80 0 0 1 93.00 418.83L99.93 417.61A59.84 59.84 0 0 0 98.80 412.51ZM126.91 435.52A86.24 86.24 0 0 1 125.93 442.98L129.40 443.59A89.76 89.76 0 0 0 130.42 435.82ZM84.14 464.20A56.32 56.32 0 0 1 80.82 467.82L83.31 470.31A59.84 59.84 0 0 0 86.84 466.46ZM92.23 470.99A66.88 66.88 0 0 1 88.29 475.29L93.27 480.27A73.92 73.92 0 0 0 97.63 475.51ZM88.29 475.29A66.88 66.88 0 0 1 83.99 479.23L88.51 484.63A73.92 73.92 0 0 0 93.27 480.27ZM74.94 468.45A52.80 52.80 0 0 1 71.28 471.25L77.34 479.90A63.36 63.36 0 0 0 81.73 476.54ZM86.25 481.93A70.40 70.40 0 0 1 81.38 485.67L85.42 491.44A77.44 77.44 0 0 0 90.78 487.32ZM69.27 468.37A49.28 49.28 0 0 1 65.64 470.68L72.68 482.87A63.36 63.36 0 0 0 77.34 479.90Z"/>
<path fill="#00a5ff" stroke="#00a5ff" stroke-width="0.3" d="M44.37 389.43A38.72 38.72 0 0 1 47.72 389.87L48.33 386.40A42.24 42.24 0 0 0 44.68 385.92ZM53.04 394.92A35.20 35.20 0 0 1 55.88 396.10L57.36 392.91A38.72 38.72 0 0 0 54.24 391.62ZM55.88 396.10A35.20 35.20 0 0 1 58.60 397.52L60.36 394.47A38.72 38.72 0 0 0 57.36 392.91ZM88.29 380.71A66.88 66.88 0 0 1 92.23 385.01L97.63 380.49A73.92 73.92 0 0 0 93.27 375.73ZM97.63 380.49A73.92 73.92 0 0 1 101.55 385.60L115.97 375.51A91.52 91.52 0 0 0 111.11 369.17ZM69.83 407.81A35.20 35.20 0 0 1 71.48 410.40L74.53 408.64A38.72 38.72 0 0 0 72.72 405.79ZM101.55 385.60A73.92 73.92 0 0 1 105.02 391.04L111.11 387.52A80.96 80.96 0 0 0 107.32 381.56ZM71.48 410.40A35.20 35.20 0 0 1 72.90 413.12L76.09 411.64A38.72 38.72 0 0 0 74.53 408.64ZM114.16 385.76A84.48 84.48 0 0 1 117.56 392.30L123.95 389.32A91.52 91.52 0 0 0 120.26 382.24ZM72.90 413.12A35.20 35.20 0 0 1 74.08 415.96L77.38 414.76A38.72 38.72 0 0 0 76.09 411.64ZM88.85 405.69A52.80 52.80 0 0 1 90.62 409.94L97.23 407.53A59.84 59.84 0 0 0 95.23 402.71ZM74.08 415.96A35.20 35.20 0 0 1 75.00 418.89L78.40 417.98A38.72 38.72 0 0 0 77.38 414.76ZM84.00 412.35A45.76 45.76 0 0 1 85.20 416.16L92.00 414.33A52.80 52.80 0 0 0 90.62 409.94ZM103.85 405.13A66.88 66.88 0 0 1 105.60 410.69L112.40 408.87A73.92 73.92 0 0 0 110.46 402.72ZM75.00 418.89A35.20 35.20 0 0 1 75.67 421.89L79.13 421.28A38.72 38.72 0 0 0 78.40 417.98ZM88.60 415.25A49.28 49.28 0 0 1 89.53 419.44L93.00 418.83A52.80 52.80 0 0 0 92.00 414.33ZM115.80 407.96A77.44 77.44 0 0 1 117.26 414.55L124.20 413.33A84.48 84.48 0 0 0 122.60 406.13ZM75.67 421.89A35.20 35.20 0 0 1 76.07 424.93L79.57 424.63A38.72 38.72 0 0 0 79.13 421.28ZM103.40 417.00A63.36 63.36 0 0 1 104.12 422.48L111.13 421.86A70.40 70.40 0 0 0 110.33 415.78ZM114.64 421.56A73.92 73.92 0 0 1 114.92 428.00L121.96 428.00A80.96 80.96 0 0 0 121.65 420.94ZM76.07 431.07A35.20 35.20 0 0 1 75.67 434.11L79.13 434.72A38.72 38.72 0 0 0 79.57 431.37ZM75.67 434.11A35.20 35.20 0 0 1 75.00 437.11L78.40 438.02A38.72 38.72 0 0 0 79.13 434.72ZM75.00 437.11A35.20 35.20 0 0 1 74.08 440.04L77.38 441.24A38.72 38.72 0 0 0 78.40 438.02ZM108.07 466.72A77.44 77.44 0 0 1 104.44 472.42L108.76 475.45A82.72 82.72 0 0 0 112.64 469.36ZM98.67 468.38A70.40 70.40 0 0 1 94.93 473.25L100.32 477.78A77.44 77.44 0 0 0 104.44 472.42ZM110.20 476.46A84.48 84.48 0 0 1 105.72 482.30L108.41 484.57A88.00 88.00 0 0 0 113.09 478.47ZM80.82 467.82A56.32 56.32 0 0 1 77.20 471.14L83.99 479.23A66.88 66.88 0 0 0 88.29 475.29Z"/>
<path fill="#005aff" stroke="#005aff" stroke-width="0.3" d="M47.11 393.33A35.20 35.20 0 0 1 50.11 394.00L51.02 390.60A38.72 38.72 0 0 0 47.72 389.87ZM50.11 394.00A35.20 35.20 0 0 1 53.04 394.92L54.24 391.62A38.72 38.72 0 0 0 51.02 390.60ZM57.36 392.91A38.72 38.72 0 0 1 60.36 394.47L62.12 391.42A42.24 42.24 0 0 0 58.85 389.72ZM65.64 385.32A49.28 49.28 0 0 1 69.27 387.63L73.30 381.87A56.32 56.32 0 0 0 69.16 379.23ZM75.32 378.98A59.84 59.84 0 0 1 79.46 382.16L83.99 376.77A66.88 66.88 0 0 0 79.36 373.22ZM83.99 376.77A66.88 66.88 0 0 1 88.29 380.71L93.27 375.73A73.92 73.92 0 0 0 88.51 371.37ZM93.27 375.73A73.92 73.92 0 0 1 97.63 380.49L108.41 371.43A88.00 88.00 0 0 0 103.23 365.77ZM82.47 408.66A45.76 45.76 0 0 1 84.00 412.35L90.62 409.94A52.80 52.80 0 0 0 88.85 405.69ZM90.62 409.94A52.80 52.80 0 0 1 92.00 414.33L98.80 412.51A59.84 59.84 0 0 0 97.23 407.53ZM76.07 424.93A35.20 35.20 0 0 1 76.20 428.00L79.72 428.00A38.72 38.72 0 0 0 79.57 424.63ZM76.20 428.00A35.20 35.20 0 0 1 76.07 431.07L79.57 431.37A38.72 38.72 0 0 0 79.72 428.00ZM95.78 466.36A66.88 66.88 0 0 1 92.23 470.99L94.93 473.25A70.40 70.40 0 0 0 98.67 468.38ZM86.84 466.46A59.84 59.84 0 0 1 83.31 470.31L88.29 475.29A66.88 66.88 0 0 0 92.23 470.99ZM103.02 480.04A80.96 80.96 0 0 1 98.25 485.25L100.74 487.74A84.48 84.48 0 0 0 105.72 482.30ZM75.85 462.85A49.28 49.28 0 0 1 72.68 465.75L77.20 471.14A56.32 56.32 0 0 0 80.82 467.82ZM93.27 480.27A73.92 73.92 0 0 1 88.51 484.63L93.04 490.02A80.96 80.96 0 0 0 98.25 485.25ZM70.41 463.05A45.76 45.76 0 0 1 67.25 465.48L71.28 471.25A52.80 52.80 0 0 0 74.94 468.45ZM67.25 465.48A45.76 45.76 0 0 1 63.88 467.63L65.64 470.68A49.28 49.28 0 0 0 69.27 468.37ZM62.12 464.58A42.24 42.24 0 0 1 58.85 466.28L60.34 469.47A45.76 45.76 0 0 0 63.88 467.63ZM67.40 473.73A52.80 52.80 0 0 1 63.31 475.85L64.80 479.04A56.32 56.32 0 0 0 69.16 476.77Z"/>
<path fill="#5affaa" stroke="#5affaa" stroke-width="0.3" d="M48.95 382.94A45.76 45.76 0 0 1 52.84 383.80L53.75 380.40A49.28 49.28 0 0 0 49.56 379.47ZM83.24 354.84A84.48 84.48 0 0 1 89.46 358.80L91.47 355.91A88.00 88.00 0 0 0 85.00 351.79ZM67.25 390.52A45.76 45.76 0 0 1 70.41 392.95L74.94 387.55A52.80 52.80 0 0 0 71.28 384.75ZM63.63 401.04A35.20 35.20 0 0 1 65.89 403.11L68.38 400.62A38.72 38.72 0 0 0 65.89 398.34ZM70.41 392.95A45.76 45.76 0 0 1 73.36 395.64L83.31 385.69A59.84 59.84 0 0 0 79.46 382.16ZM78.34 390.66A52.80 52.80 0 0 1 81.45 394.06L86.84 389.54A59.84 59.84 0 0 0 83.31 385.69ZM70.66 403.11A38.72 38.72 0 0 1 72.72 405.79L78.48 401.75A45.76 45.76 0 0 0 76.05 398.59ZM81.45 394.06A52.80 52.80 0 0 1 84.25 397.72L90.02 393.68A59.84 59.84 0 0 0 86.84 389.54ZM92.23 385.01A66.88 66.88 0 0 1 95.78 389.64L101.55 385.60A73.92 73.92 0 0 0 97.63 380.49ZM72.72 405.79A38.72 38.72 0 0 1 74.53 408.64L86.73 401.60A52.80 52.80 0 0 0 84.25 397.72ZM90.02 393.68A59.84 59.84 0 0 1 92.82 398.08L98.92 394.56A66.88 66.88 0 0 0 95.78 389.64ZM86.73 401.60A52.80 52.80 0 0 1 88.85 405.69L101.61 399.74A66.88 66.88 0 0 0 98.92 394.56ZM95.23 402.71A59.84 59.84 0 0 1 97.23 407.53L103.85 405.13A66.88 66.88 0 0 0 101.61 399.74ZM111.18 395.27A77.44 77.44 0 0 1 113.77 401.51L120.39 399.11A84.48 84.48 0 0 0 117.56 392.30ZM110.46 402.72A73.92 73.92 0 0 1 112.40 408.87L119.20 407.05A80.96 80.96 0 0 0 117.08 400.31ZM122.60 406.13A84.48 84.48 0 0 1 124.20 413.33L131.13 412.11A91.52 91.52 0 0 0 129.40 404.31ZM128.67 420.33A88.00 88.00 0 0 1 129.00 428.00L132.52 428.00A91.52 91.52 0 0 0 132.17 420.02ZM71.48 445.60A35.20 35.20 0 0 1 69.83 448.19L72.72 450.21A38.72 38.72 0 0 0 74.53 447.36ZM69.83 448.19A35.20 35.20 0 0 1 67.96 450.63L70.66 452.89A38.72 38.72 0 0 0 72.72 450.21Z"/>
<path fill="#ffffff" stroke="#ffffff" stroke-width="0.3" d="M59.06 378.38A52.80 52.80 0 0 1 63.31 380.15L64.80 376.96A56.32 56.32 0 0 0 60.26 375.08Z"/>
<path fill="#000078" stroke="#000078" stroke-width="0.3" d="M63.31 380.15A52.80 52.80 0 0 1 67.40 382.27L74.44 370.08A66.88 66.88 0 0 0 69.26 367.39Z"/>
<path fill="#ff4600" stroke="#ff4600" stroke-width="0.3" d="M58.60 397.52A35.20 35.20 0 0 1 61.19 399.17L62.20 397.72A36.96 36.96 0 0 0 59.48 395.99ZM61.19 456.83A35.20 35.20 0 0 1 58.60 458.48L60.36 461.53A38.72 38.72 0 0 0 63.21 459.72Z"/>
<path fill="#050519" stroke="#050519" stroke-width="0.3" d="M59.48 395.99A36.96 36.96 0 0 1 62.20 397.72L63.21 396.28A38.72 38.72 0 0 0 60.36 394.47ZM61.19 399.17A35.20 35.20 0 0 1 63.63 401.04L65.89 398.34A38.72 38.72 0 0 0 63.21 396.28Z"/>
<path fill="#ffeb00" stroke="#ffeb00" stroke-width="0.3" d="M60.36 394.47A38.72 38.72 0 0 1 63.21 396.28L65.23 393.40A42.24 42.24 0 0 0 62.12 391.42ZM65.89 452.89A35.20 35.20 0 0 1 63.63 454.96L65.89 457.66A38.72 38.72 0 0 0 68.38 455.38Z"/>
<path fill="#00ebff" stroke="#00ebff" stroke-width="0.3" d="M62.12 391.42A42.24 42.24 0 0 1 65.23 393.40L69.27 387.63A49.28 49.28 0 0 0 65.64 385.32ZM71.28 384.75A52.80 52.80 0 0 1 74.94 387.55L79.46 382.16A59.84 59.84 0 0 0 75.32 378.98ZM79.46 382.16A59.84 59.84 0 0 1 83.31 385.69L88.29 380.71A66.88 66.88 0 0 0 83.99 376.77ZM65.89 403.11A35.20 35.20 0 0 1 67.96 405.37L70.66 403.11A38.72 38.72 0 0 0 68.38 400.62ZM83.31 385.69A59.84 59.84 0 0 1 86.84 389.54L92.23 385.01A66.88 66.88 0 0 0 88.29 380.71ZM67.96 405.37A35.20 35.20 0 0 1 69.83 407.81L72.72 405.79A38.72 38.72 0 0 0 70.66 403.11ZM86.84 389.54A59.84 59.84 0 0 1 90.02 393.68L95.78 389.64A66.88 66.88 0 0 0 92.23 385.01ZM95.78 389.64A66.88 66.88 0 0 1 98.92 394.56L105.02 391.04A73.92 73.92 0 0 0 101.55 385.60ZM107.32 381.56A80.96 80.96 0 0 1 111.11 387.52L120.26 382.24A91.52 91.52 0 0 0 115.97 375.51ZM74.53 408.64A38.72 38.72 0 0 1 76.09 411.64L88.85 405.69A52.80 52.80 0 0 0 86.73 401.60ZM98.92 394.56A66.88 66.88 0 0 1 101.61 399.74L117.56 392.30A84.48 84.48 0 0 0 114.16 385.76ZM76.09 411.64A38.72 38.72 0 0 1 77.38 414.76L84.00 412.35A45.76 45.76 0 0 0 82.47 408.66ZM101.61 399.74A66.88 66.88 0 0 1 103.85 405.13L113.77 401.51A77.44 77.44 0 0 0 111.18 395.27ZM117.56 392.30A84.48 84.48 0 0 1 120.39 399.11L127.00 396.70A91.52 91.52 0 0 0 123.95 389.32ZM97.23 407.53A59.84 59.84 0 0 1 98.80 412.51L105.60 410.69A66.88 66.88 0 0 0 103.85 405.13ZM117.08 400.31A80.96 80.96 0 0 1 119.20 407.05L129.40 404.31A91.52 91.52 0 0 0 127.00 396.70ZM98.80 412.51A59.84 59.84 0 0 1 99.93 417.61L117.26 414.55A77.44 77.44 0 0 0 115.80 407.96ZM96.46 418.22A56.32 56.32 0 0 1 97.11 423.09L104.12 422.48A63.36 63.36 0 0 0 103.40 417.00ZM110.33 415.78A70.40 70.40 0 0 1 111.13 421.86L125.16 420.64A84.48 84.48 0 0 0 124.20 413.33ZM100.61 422.78A59.84 59.84 0 0 1 100.84 428.00L114.92 428.00A73.92 73.92 0 0 0 114.64 421.56ZM121.65 420.94A80.96 80.96 0 0 1 121.96 428.00L129.00 428.00A88.00 88.00 0 0 0 128.67 420.33ZM118.44 428.00A77.44 77.44 0 0 1 118.15 434.75L132.17 435.98A91.52 91.52 0 0 0 132.52 428.00ZM74.08 440.04A35.20 35.20 0 0 1 72.90 442.88L76.09 444.36A38.72 38.72 0 0 0 77.38 441.24ZM72.90 442.88A35.20 35.20 0 0 1 71.48 445.60L74.53 447.36A38.72 38.72 0 0 0 76.09 444.36ZM112.64 469.36A82.72 82.72 0 0 1 108.76 475.45L113.09 478.47A88.00 88.00 0 0 0 117.21 472.00ZM104.44 472.42A77.44 77.44 0 0 1 100.32 477.78L105.72 482.30A84.48 84.48 0 0 0 110.20 476.46ZM97.63 475.51A73.92 73.92 0 0 1 93.27 480.27L98.25 485.25A80.96 80.96 0 0 0 103.02 480.04ZM81.73 476.54A63.36 63.36 0 0 1 77.34 479.90L81.38 485.67A70.40 70.40 0 0 0 86.25 481.93Z"/>
<path fill="#ff8c00" stroke="#ff8c00" stroke-width="0.3" d="M63.21 396.28A38.72 38.72 0 0 1 65.89 398.34L68.15 395.64A42.24 42.24 0 0 0 65.23 393.40ZM67.96 450.63A35.20 35.20 0 0 1 65.89 452.89L68.38 455.38A38.72 38.72 0 0 0 70.66 452.89Z"/>
<path fill="#afff50" stroke="#afff50" stroke-width="0.3" d="M65.23 393.40A42.24 42.24 0 0 1 68.15 395.64L70.41 392.95A45.76 45.76 0 0 0 67.25 390.52ZM65.89 398.34A38.72 38.72 0 0 1 68.38 400.62L73.36 395.64A45.76 45.76 0 0 0 70.41 392.95ZM68.38 400.62A38.72 38.72 0 0 1 70.66 403.11L81.45 394.06A52.80 52.80 0 0 0 78.34 390.66ZM76.05 398.59A45.76 45.76 0 0 1 78.48 401.75L84.25 397.72A52.80 52.80 0 0 0 81.45 394.06ZM84.25 397.72A52.80 52.80 0 0 1 86.73 401.60L92.82 398.08A59.84 59.84 0 0 0 90.02 393.68ZM124.20 413.33A84.48 84.48 0 0 1 125.16 420.64L132.17 420.02A91.52 91.52 0 0 0 131.13 412.11ZM113.16 428.00A72.16 72.16 0 0 1 112.89 434.29L118.15 434.75A77.44 77.44 0 0 0 118.44 428.00ZM73.36 460.36A45.76 45.76 0 0 1 70.41 463.05L72.68 465.75A49.28 49.28 0 0 0 75.85 462.85Z"/>
<path fill="#eb0f00" stroke="#eb0f00" stroke-width="0.3" d="M63.63 454.96A35.20 35.20 0 0 1 61.19 456.83L63.21 459.72A38.72 38.72 0 0 0 65.89 457.66ZM68.15 460.36A42.24 42.24 0 0 1 65.23 462.60L67.25 465.48A45.76 45.76 0 0 0 70.41 463.05ZM65.23 462.60A42.24 42.24 0 0 1 62.12 464.58L63.88 467.63A45.76 45.76 0 0 0 67.25 465.48ZM58.60 458.48A35.20 35.20 0 0 1 55.88 459.90L57.36 463.09A38.72 38.72 0 0 0 60.36 461.53ZM55.88 459.90A35.20 35.20 0 0 1 53.04 461.08L54.24 464.38A38.72 38.72 0 0 0 57.36 463.09Z"/>
<path d="M47.11 462.67L59.34 532.00M53.04 461.08L77.12 527.23M58.60 458.48L93.80 519.45M63.63 454.96L108.88 508.89M67.96 450.63L121.89 495.88M71.48 445.60L132.45 480.80M74.08 440.04L140.23 464.12M75.67 434.11L145.00 446.34M75.67 421.89L145.00 409.66M74.08 415.96L140.23 391.88M71.48 410.40L132.45 375.20M67.96 405.37L121.89 360.12M63.63 401.04L108.88 347.11M58.60 397.52L93.80 336.55M53.04 394.92L77.12 328.77M47.11 393.33L59.34 324.00" stroke="#3a3a3a" stroke-width="0.75" stroke-dasharray="2.5 1.5" fill="none"/>
<path d="M65.89 403.11L66.87 402.79L67.87 402.50L68.88 402.23L69.89 401.98L70.92 401.76L71.95 401.56L73.00 401.39L74.04 401.24L75.10 401.12L76.15 401.03L77.21 400.96L78.28 400.92L79.34 400.90L80.41 400.92L81.47 400.96L82.53 401.03L83.59 401.13L84.64 401.26L85.69 401.41L86.73 401.60L87.76 401.81L88.78 402.06L89.80 402.33L90.80 402.63L91.79 402.95L92.77 403.31L93.73 403.69L94.67 404.10L95.60 404.54L96.52 405.00L97.41 405.49L98.28 406.01L99.14 406.55L99.97 407.12L100.78 407.71L101.56 408.32L102.32 408.96L103.06 409.62L103.76 410.30L104.45 411.00L105.10 411.72L105.72 412.46L106.32 413.22L106.88 414.00L107.42 414.79L107.92 415.60L108.39 416.42L108.83 417.26L109.24 418.11L109.61 418.97L109.95 419.84L110.25 420.72L110.52 421.61L110.75 422.51L110.95 423.42L111.11 424.33L111.24 425.24L111.33 426.16L111.38 427.08L111.40 428.00M65.89 452.89L66.87 453.21L67.87 453.50L68.88 453.77L69.89 454.02L70.92 454.24L71.95 454.44L73.00 454.61L74.04 454.76L75.10 454.88L76.15 454.97L77.21 455.04L78.28 455.08L79.34 455.10L80.41 455.08L81.47 455.04L82.53 454.97L83.59 454.87L84.64 454.74L85.69 454.59L86.73 454.40L87.76 454.19L88.78 453.94L89.80 453.67L90.80 453.37L91.79 453.05L92.77 452.69L93.73 452.31L94.67 451.90L95.60 451.46L96.52 451.00L97.41 450.51L98.28 449.99L99.14 449.45L99.97 448.88L100.78 448.29L101.56 447.68L102.32 447.04L103.06 446.38L103.76 445.70L104.45 445.00L105.10 444.28L105.72 443.54L106.32 442.78L106.88 442.00L107.42 441.21L107.92 440.40L108.39 439.58L108.83 438.74L109.24 437.89L109.61 437.03L109.95 436.16L110.25 435.28L110.52 434.39L110.75 433.49L110.95 432.58L111.11 431.67L111.24 430.76L111.33 429.84L111.38 428.92L111.40 428.00M61.32 399.26L62.72 398.30L64.16 397.37L65.64 396.46L67.17 395.58L68.74 394.73L70.35 393.92L72.00 393.15L73.68 392.42L75.39 391.72L77.14 391.07L78.92 390.47L80.73 389.92L82.56 389.41L84.41 388.96L86.29 388.56L88.18 388.22L90.09 387.93L92.01 387.70L93.94 387.52L95.87 387.41L97.81 387.36L99.75 387.37L101.69 387.44L103.63 387.57L105.56 387.77L107.47 388.03L109.37 388.36L111.26 388.75L113.12 389.20L114.96 389.71L116.78 390.29L118.56 390.93L120.32 391.63L122.04 392.40L123.72 393.22L125.36 394.10L126.96 395.04L128.51 396.03L130.01 397.08L131.46 398.18L132.86 399.33L134.20 400.53L135.48 401.78L136.70 403.08L137.86 404.42L138.95 405.80L139.98 407.21L140.94 408.67L141.83 410.16L142.64 411.68L143.39 413.23L144.05 414.80L144.65 416.40L145.16 418.02L145.60 419.66L145.96 421.31L146.24 422.97L146.44 424.64L146.56 426.32L146.60 428.00M58.60 397.52L60.24 395.99L61.95 394.47L63.75 392.97L65.62 391.50L67.57 390.06L69.59 388.65L71.69 387.27L73.86 385.94L76.09 384.66L78.39 383.44L80.76 382.26L83.18 381.15L85.66 380.10L88.20 379.13L90.78 378.22L93.41 377.39L96.08 376.64L98.79 375.97L101.53 375.39L104.29 374.89L107.09 374.48L109.90 374.17L112.72 373.95L115.55 373.83L118.39 373.81L121.23 373.89L124.06 374.06L126.87 374.34L129.67 374.72L132.45 375.20L132.45 375.20M53.45 395.07L55.54 391.77L57.83 388.38L60.33 384.93L63.04 381.43L65.96 377.89L69.10 374.33L72.45 370.76L76.02 367.20L79.81 363.67L83.80 360.17L88.01 356.73L92.42 353.36L97.03 350.08L101.84 346.89L105.67 344.52M53.45 460.93L55.54 464.23L57.83 467.62L60.33 471.07L63.04 474.57L65.96 478.11L69.10 481.67L72.45 485.24L76.02 488.80L79.81 492.33L83.80 495.83L88.01 499.27L92.42 502.64L97.03 505.92L101.84 509.11L105.67 511.48M50.41 394.08L52.78 388.84L55.51 383.31L58.60 377.54L62.07 371.55L65.94 365.35L70.22 359.00L74.92 352.51L80.04 345.91L85.59 339.25L89.88 334.40M50.41 461.92L52.78 467.16L55.51 472.69L58.60 478.46L62.07 484.45L65.94 490.65L70.22 497.00L74.92 503.49L80.04 510.09L85.59 516.75L89.88 521.60" stroke="#2a2a2a" stroke-width="0.8" fill="none"/>
<path d="M61.32 456.74L62.72 457.70L64.16 458.63L65.64 459.54L67.17 460.42L68.74 461.27L70.35 462.08L72.00 462.85L73.68 463.58L75.39 464.28L77.14 464.93L78.92 465.53L80.73 466.08L82.56 466.59L84.41 467.04L86.29 467.44L88.18 467.78L90.09 468.07L92.01 468.30L93.94 468.48L95.87 468.59L97.81 468.64L99.75 468.63L101.69 468.56L103.63 468.43L105.56 468.23L107.47 467.97L109.37 467.64L111.26 467.25L113.12 466.80L114.96 466.29L116.78 465.71L118.56 465.07L120.32 464.37L122.04 463.60L123.72 462.78L125.36 461.90L126.96 460.96L128.51 459.97L130.01 458.92L131.46 457.82L132.86 456.67L134.20 455.47L135.48 454.22L136.70 452.92L137.86 451.58L138.95 450.20L139.98 448.79L140.94 447.33L141.83 445.84L142.64 444.32L143.39 442.77L144.05 441.20L144.65 439.60L145.16 437.98L145.60 436.34L145.96 434.69L146.24 433.03L146.44 431.36L146.56 429.68L146.60 428.00M58.60 458.48L60.24 460.01L61.95 461.53L63.75 463.03L65.62 464.50L67.57 465.94L69.59 467.35L71.69 468.73L73.86 470.06L76.09 471.34L78.39 472.56L80.76 473.74L83.18 474.85L85.66 475.90L88.20 476.87L90.78 477.78L93.41 478.61L96.08 479.36L98.79 480.03L101.53 480.61L104.29 481.11L107.09 481.52L109.90 481.83L112.72 482.05L115.55 482.17L118.39 482.19L121.23 482.11L124.06 481.94L126.87 481.66L129.67 481.28L132.45 480.80L132.45 480.80" stroke="#34348c" stroke-width="0.8" fill="none"/>
<path d="M76.20 428.00L146.60 428.00" stroke="#3a3a96" stroke-width="1"/>
<path d="M41.00 357.60A70.40 70.40 0 0 1 41.00 498.40" stroke="#333" stroke-width="0.9" fill="none"/>
<path d="M41.00 392.80A35.20 35.20 0 0 1 41.00 463.20Z" fill="#fff" stroke="#222" stroke-width="1.2"/>
<path d="M41.00 322.40A105.60 105.60 0 0 1 41.00 533.60" stroke="#666" stroke-width="1.7" fill="none"/>
<path d="M41.00 321.60L41.00 534.40" stroke="#222" stroke-width="1.6"/>
<g font-family="Liberation Sans, sans-serif" font-size="4" font-weight="bold" fill="#222"><text x="43.2" y="398.5">14 8</text><text x="53.5" y="403.0">4 3</text><text x="52.0" y="407.5">L= 2</text></g>
<path fill="#d8d8d8" stroke="#d8d8d8" stroke-width="0.3" d="M376.30 378.48A56.32 56.32 0 0 1 381.21 378.69L382.13 368.17A66.88 66.88 0 0 0 376.30 367.92ZM381.21 378.69A56.32 56.32 0 0 1 386.08 379.34L386.69 375.87A59.84 59.84 0 0 0 381.52 375.19ZM406.40 352.11A88.00 88.00 0 0 1 413.49 355.04L414.98 351.85A91.52 91.52 0 0 0 407.60 348.80ZM456.95 441.86A80.96 80.96 0 0 1 456.03 448.86L461.23 449.78A86.24 86.24 0 0 0 462.21 442.32ZM410.30 443.91A35.20 35.20 0 0 1 409.38 446.84L412.68 448.04A38.72 38.72 0 0 0 413.70 444.82ZM409.38 446.84A35.20 35.20 0 0 1 408.20 449.68L411.39 451.16A38.72 38.72 0 0 0 412.68 448.04ZM408.20 449.68A35.20 35.20 0 0 1 406.78 452.40L409.83 454.16A38.72 38.72 0 0 0 411.39 451.16ZM406.78 452.40A35.20 35.20 0 0 1 405.13 454.99L408.02 457.01A38.72 38.72 0 0 0 409.83 454.16ZM406.22 486.62A59.84 59.84 0 0 1 401.59 489.03L406.05 498.60A70.40 70.40 0 0 0 411.50 495.77ZM413.26 498.82A73.92 73.92 0 0 1 407.54 501.79L412.75 512.96A86.24 86.24 0 0 0 419.42 509.49ZM393.41 471.49A40.48 40.48 0 0 1 390.14 472.84L405.80 515.84A86.24 86.24 0 0 0 412.75 512.96ZM391.35 476.15A44.00 44.00 0 0 1 387.69 477.30L398.62 518.10A86.24 86.24 0 0 0 405.80 515.84Z"/>
<path d="M376.30 364.40A70.40 70.40 0 0 1 376.30 505.20" stroke="#5e5e5e" stroke-width="2.2" fill="none"/>
<path fill="#000078" stroke="#000078" stroke-width="0.3" d="M376.30 399.60A35.20 35.20 0 0 1 379.37 399.73L380.13 390.97A44.00 44.00 0 0 0 376.30 390.80ZM376.30 346.80A88.00 88.00 0 0 1 383.97 347.13L384.28 343.63A91.52 91.52 0 0 0 376.30 343.28ZM383.97 347.13A88.00 88.00 0 0 1 391.58 348.14L392.19 344.67A91.52 91.52 0 0 0 384.28 343.63ZM390.36 355.07A80.96 80.96 0 0 1 397.25 356.60L399.99 346.40A91.52 91.52 0 0 0 392.19 344.67ZM397.25 356.60A80.96 80.96 0 0 1 403.99 358.72L406.40 352.11A88.00 88.00 0 0 0 399.08 349.80ZM421.36 426.85A45.76 45.76 0 0 1 421.89 430.81L428.90 430.20A52.80 52.80 0 0 0 428.30 425.63ZM411.37 431.73A35.20 35.20 0 0 1 411.50 434.80L415.02 434.80A38.72 38.72 0 0 0 414.87 431.43ZM410.97 440.91A35.20 35.20 0 0 1 410.30 443.91L413.70 444.82A38.72 38.72 0 0 0 414.43 441.52ZM438.79 470.88A72.16 72.16 0 0 1 435.41 476.19L439.74 479.22A77.44 77.44 0 0 0 443.37 473.52ZM414.66 489.58A66.88 66.88 0 0 1 409.74 492.72L413.26 498.82A73.92 73.92 0 0 0 418.70 495.35ZM399.18 474.43A45.76 45.76 0 0 1 395.64 476.27L397.13 479.46A49.28 49.28 0 0 0 400.94 477.48ZM411.50 495.77A70.40 70.40 0 0 1 406.05 498.60L407.54 501.79A73.92 73.92 0 0 0 413.26 498.82Z"/>
<path fill="#00a5ff" stroke="#00a5ff" stroke-width="0.3" d="M376.30 385.52A49.28 49.28 0 0 1 380.60 385.71L380.90 382.20A52.80 52.80 0 0 0 376.30 382.00ZM382.44 364.67A70.40 70.40 0 0 1 388.52 365.47L389.75 358.54A77.44 77.44 0 0 0 383.05 357.65ZM383.63 393.20A42.24 42.24 0 0 1 387.23 394.00L389.05 387.20A49.28 49.28 0 0 0 384.86 386.27ZM386.08 379.34A56.32 56.32 0 0 1 390.88 380.40L392.70 373.60A63.36 63.36 0 0 0 387.30 372.40ZM388.52 365.47A70.40 70.40 0 0 1 394.52 366.80L396.34 360.00A77.44 77.44 0 0 0 389.75 358.54ZM389.97 383.80A52.80 52.80 0 0 1 394.36 385.18L397.97 375.26A63.36 63.36 0 0 0 392.70 373.60ZM395.43 363.40A73.92 73.92 0 0 1 401.58 365.34L403.99 358.72A80.96 80.96 0 0 0 397.25 356.60ZM393.15 388.49A49.28 49.28 0 0 1 397.13 390.14L401.59 380.57A59.84 59.84 0 0 0 396.77 378.57ZM400.38 368.65A70.40 70.40 0 0 1 406.05 371.00L409.03 364.62A77.44 77.44 0 0 0 402.79 362.03ZM395.64 393.33A45.76 45.76 0 0 1 399.18 395.17L402.70 389.07A52.80 52.80 0 0 0 398.61 386.95ZM401.59 380.57A59.84 59.84 0 0 1 406.22 382.98L409.74 376.88A66.88 66.88 0 0 0 404.56 374.19ZM407.54 367.81A73.92 73.92 0 0 1 413.26 370.78L416.78 364.69A80.96 80.96 0 0 0 410.52 361.43ZM411.50 373.83A70.40 70.40 0 0 1 416.68 377.13L420.72 371.36A77.44 77.44 0 0 0 415.02 367.73ZM418.70 374.25A73.92 73.92 0 0 1 423.81 378.17L428.34 372.78A80.96 80.96 0 0 0 422.74 368.48ZM430.60 370.08A84.48 84.48 0 0 1 436.04 375.06L438.53 372.57A88.00 88.00 0 0 0 432.87 367.39ZM406.78 417.20A35.20 35.20 0 0 1 408.20 419.92L411.39 418.44A38.72 38.72 0 0 0 409.83 415.44ZM408.20 419.92A35.20 35.20 0 0 1 409.38 422.76L412.68 421.56A38.72 38.72 0 0 0 411.39 418.44ZM412.68 421.56A38.72 38.72 0 0 1 413.70 424.78L434.10 419.31A59.84 59.84 0 0 0 432.53 414.33ZM439.15 411.93A66.88 66.88 0 0 1 440.90 417.49L447.70 415.67A73.92 73.92 0 0 0 445.76 409.52ZM452.38 407.11A80.96 80.96 0 0 1 454.50 413.85L461.30 412.02A88.00 88.00 0 0 0 458.99 404.70ZM413.70 424.78A38.72 38.72 0 0 1 414.43 428.08L421.36 426.85A45.76 45.76 0 0 0 420.50 422.96ZM447.70 415.67A73.92 73.92 0 0 1 449.10 421.96L456.03 420.74A80.96 80.96 0 0 0 454.50 413.85ZM461.30 412.02A88.00 88.00 0 0 1 462.96 419.52L466.43 418.91A91.52 91.52 0 0 0 464.70 411.11ZM452.56 421.35A77.44 77.44 0 0 1 453.45 428.05L463.97 427.13A88.00 88.00 0 0 0 462.96 419.52ZM450.22 434.80A73.92 73.92 0 0 1 449.94 441.24L463.97 442.47A88.00 88.00 0 0 0 464.30 434.80ZM426.08 484.58A70.40 70.40 0 0 1 421.55 488.73L428.34 496.82A80.96 80.96 0 0 0 433.55 492.05ZM414.76 480.64A59.84 59.84 0 0 1 410.62 483.82L414.66 489.58A66.88 66.88 0 0 0 419.29 486.03ZM426.08 494.12A77.44 77.44 0 0 1 420.72 498.24L425.77 505.44A86.24 86.24 0 0 0 431.73 500.86Z"/>
<path fill="#0000ee" stroke="#0000ee" stroke-width="0.3" d="M376.30 364.40A70.40 70.40 0 0 1 382.44 364.67L382.74 361.16A73.92 73.92 0 0 0 376.30 360.88ZM376.30 357.36A77.44 77.44 0 0 1 383.05 357.65L383.66 350.64A84.48 84.48 0 0 0 376.30 350.32ZM379.37 399.73A35.20 35.20 0 0 1 382.41 400.13L383.02 396.67A38.72 38.72 0 0 0 379.67 396.23ZM379.98 392.72A42.24 42.24 0 0 1 383.63 393.20L384.25 389.74A45.76 45.76 0 0 0 380.29 389.21ZM383.66 350.64A84.48 84.48 0 0 1 390.97 351.60L391.58 348.14A88.00 88.00 0 0 0 383.97 347.13ZM399.08 349.80A88.00 88.00 0 0 1 406.40 352.11L407.60 348.80A91.52 91.52 0 0 0 399.99 346.40ZM420.50 422.96A45.76 45.76 0 0 1 421.36 426.85L431.76 425.02A56.32 56.32 0 0 0 430.70 420.22ZM410.97 428.69A35.20 35.20 0 0 1 411.37 431.73L414.87 431.43A38.72 38.72 0 0 0 414.43 428.08ZM428.30 425.63A52.80 52.80 0 0 1 428.90 430.20L439.42 429.28A63.36 63.36 0 0 0 438.70 423.80ZM439.42 429.28A63.36 63.36 0 0 1 439.66 434.80L446.70 434.80A70.40 70.40 0 0 0 446.43 428.66ZM463.97 427.13A88.00 88.00 0 0 1 464.30 434.80L467.82 434.80A91.52 91.52 0 0 0 467.47 426.82ZM464.30 434.80A88.00 88.00 0 0 1 463.97 442.47L467.47 442.78A91.52 91.52 0 0 0 467.82 434.80ZM422.74 501.12A80.96 80.96 0 0 1 416.78 504.91L419.42 509.49A86.24 86.24 0 0 0 425.77 505.44Z"/>
<path fill="#005aff" stroke="#005aff" stroke-width="0.3" d="M380.60 385.71A49.28 49.28 0 0 1 384.86 386.27L385.47 382.80A52.80 52.80 0 0 0 380.90 382.20ZM383.05 357.65A77.44 77.44 0 0 1 389.75 358.54L390.97 351.60A84.48 84.48 0 0 0 383.66 350.64ZM389.75 358.54A77.44 77.44 0 0 1 396.34 360.00L397.25 356.60A80.96 80.96 0 0 0 390.36 355.07ZM402.79 362.03A77.44 77.44 0 0 1 409.03 364.62L412.00 358.24A84.48 84.48 0 0 0 405.19 355.41ZM410.30 425.69A35.20 35.20 0 0 1 410.97 428.69L414.43 428.08A38.72 38.72 0 0 0 413.70 424.78ZM430.70 420.22A56.32 56.32 0 0 1 431.76 425.02L442.16 423.19A66.88 66.88 0 0 0 440.90 417.49ZM438.70 423.80A63.36 63.36 0 0 1 439.42 429.28L446.43 428.66A70.40 70.40 0 0 0 445.63 422.58ZM462.96 419.52A88.00 88.00 0 0 1 463.97 427.13L467.47 426.82A91.52 91.52 0 0 0 466.43 418.91ZM445.50 483.26A84.48 84.48 0 0 1 441.02 489.10L443.71 491.37A88.00 88.00 0 0 0 448.39 485.27ZM435.62 484.58A77.44 77.44 0 0 1 431.06 489.56L437.28 495.78A86.24 86.24 0 0 0 442.36 490.23ZM433.55 492.05A80.96 80.96 0 0 1 428.34 496.82L431.73 500.86A86.24 86.24 0 0 0 437.28 495.78ZM419.29 486.03A66.88 66.88 0 0 1 414.66 489.58L420.72 498.24A77.44 77.44 0 0 0 426.08 494.12ZM410.62 483.82A59.84 59.84 0 0 1 406.22 486.62L409.74 492.72A66.88 66.88 0 0 0 414.66 489.58ZM418.70 495.35A73.92 73.92 0 0 1 413.26 498.82L416.78 504.91A80.96 80.96 0 0 0 422.74 501.12ZM402.70 480.53A52.80 52.80 0 0 1 398.61 482.65L401.59 489.03A59.84 59.84 0 0 0 406.22 486.62Z"/>
<path fill="#00ebff" stroke="#00ebff" stroke-width="0.3" d="M381.52 375.19A59.84 59.84 0 0 1 386.69 375.87L388.52 365.47A70.40 70.40 0 0 0 382.44 364.67ZM382.41 400.13A35.20 35.20 0 0 1 385.41 400.80L387.23 394.00A42.24 42.24 0 0 0 383.63 393.20ZM384.86 386.27A49.28 49.28 0 0 1 389.05 387.20L390.88 380.40A56.32 56.32 0 0 0 386.08 379.34ZM387.30 372.40A63.36 63.36 0 0 1 392.70 373.60L394.52 366.80A70.40 70.40 0 0 0 388.52 365.47ZM387.23 394.00A42.24 42.24 0 0 1 390.75 395.11L394.36 385.18A52.80 52.80 0 0 0 389.97 383.80ZM392.70 373.60A63.36 63.36 0 0 1 397.97 375.26L401.58 365.34A73.92 73.92 0 0 0 395.43 363.40ZM390.75 395.11A42.24 42.24 0 0 1 394.15 396.52L397.13 390.14A49.28 49.28 0 0 0 393.15 388.49ZM396.77 378.57A59.84 59.84 0 0 1 401.59 380.57L406.05 371.00A70.40 70.40 0 0 0 400.38 368.65ZM405.19 355.41A84.48 84.48 0 0 1 412.00 358.24L413.49 355.04A88.00 88.00 0 0 0 406.40 352.11ZM392.66 399.71A38.72 38.72 0 0 1 395.66 401.27L399.18 395.17A45.76 45.76 0 0 0 395.64 393.33ZM398.61 386.95A52.80 52.80 0 0 1 402.70 389.07L406.22 382.98A59.84 59.84 0 0 0 401.59 380.57ZM404.56 374.19A66.88 66.88 0 0 1 409.74 376.88L413.26 370.78A73.92 73.92 0 0 0 407.54 367.81ZM410.52 361.43A80.96 80.96 0 0 1 416.78 364.69L422.06 355.54A91.52 91.52 0 0 0 414.98 351.85ZM397.42 398.22A42.24 42.24 0 0 1 400.53 400.20L404.57 394.43A49.28 49.28 0 0 0 400.94 392.12ZM407.98 379.93A63.36 63.36 0 0 1 412.64 382.90L416.68 377.13A70.40 70.40 0 0 0 411.50 373.83ZM415.02 367.73A77.44 77.44 0 0 1 420.72 371.36L424.76 365.60A84.48 84.48 0 0 0 418.54 361.64ZM414.66 380.02A66.88 66.88 0 0 1 419.29 383.57L423.81 378.17A73.92 73.92 0 0 0 418.70 374.25ZM426.77 362.71A88.00 88.00 0 0 1 432.87 367.39L435.13 364.69A91.52 91.52 0 0 0 428.79 359.83ZM426.08 375.48A77.44 77.44 0 0 1 431.06 380.04L436.04 375.06A84.48 84.48 0 0 0 430.60 370.08ZM405.13 414.61A35.20 35.20 0 0 1 406.78 417.20L409.83 415.44A38.72 38.72 0 0 0 408.02 412.59ZM409.83 415.44A38.72 38.72 0 0 1 411.39 418.44L417.77 415.46A45.76 45.76 0 0 0 415.93 411.92ZM446.41 394.32A80.96 80.96 0 0 1 449.67 400.58L456.06 397.61A88.00 88.00 0 0 0 452.51 390.80ZM411.39 418.44A38.72 38.72 0 0 1 412.68 421.56L432.53 414.33A59.84 59.84 0 0 0 430.53 409.51ZM436.91 406.54A66.88 66.88 0 0 1 439.15 411.93L452.38 407.11A80.96 80.96 0 0 0 449.67 400.58ZM456.06 397.61A88.00 88.00 0 0 1 458.99 404.70L462.30 403.50A91.52 91.52 0 0 0 459.25 396.12ZM409.38 422.76A35.20 35.20 0 0 1 410.30 425.69L413.70 424.78A38.72 38.72 0 0 0 412.68 421.56ZM432.53 414.33A59.84 59.84 0 0 1 434.10 419.31L440.90 417.49A66.88 66.88 0 0 0 439.15 411.93ZM445.76 409.52A73.92 73.92 0 0 1 447.70 415.67L454.50 413.85A80.96 80.96 0 0 0 452.38 407.11ZM458.99 404.70A88.00 88.00 0 0 1 461.30 412.02L464.70 411.11A91.52 91.52 0 0 0 462.30 403.50ZM440.90 417.49A66.88 66.88 0 0 1 442.16 423.19L449.10 421.96A73.92 73.92 0 0 0 447.70 415.67ZM454.50 413.85A80.96 80.96 0 0 1 456.03 420.74L462.96 419.52A88.00 88.00 0 0 0 461.30 412.02ZM445.63 422.58A70.40 70.40 0 0 1 446.43 428.66L453.45 428.05A77.44 77.44 0 0 0 452.56 421.35ZM446.43 428.66A70.40 70.40 0 0 1 446.70 434.80L464.30 434.80A88.00 88.00 0 0 0 463.97 427.13ZM443.37 473.52A77.44 77.44 0 0 1 439.74 479.22L448.39 485.27A88.00 88.00 0 0 0 452.51 478.80ZM442.62 481.24A80.96 80.96 0 0 1 438.32 486.84L441.02 489.10A84.48 84.48 0 0 0 445.50 483.26ZM421.10 479.60A63.36 63.36 0 0 1 417.03 483.34L421.55 488.73A70.40 70.40 0 0 0 426.08 484.58ZM410.24 475.25A52.80 52.80 0 0 1 406.58 478.05L410.62 483.82A59.84 59.84 0 0 0 414.76 480.64ZM406.58 478.05A52.80 52.80 0 0 1 402.70 480.53L406.22 486.62A59.84 59.84 0 0 0 410.62 483.82Z"/>
<path fill="#afff50" stroke="#afff50" stroke-width="0.3" d="M385.41 400.80A35.20 35.20 0 0 1 388.34 401.72L390.75 395.11A42.24 42.24 0 0 0 387.23 394.00ZM410.62 385.78A59.84 59.84 0 0 1 414.76 388.96L419.29 383.57A66.88 66.88 0 0 0 414.66 380.02ZM401.19 409.91A35.20 35.20 0 0 1 403.26 412.17L405.96 409.91A38.72 38.72 0 0 0 403.68 407.42ZM431.06 380.04A77.44 77.44 0 0 1 435.62 385.02L443.71 378.23A88.00 88.00 0 0 0 438.53 372.57ZM432.93 387.29A73.92 73.92 0 0 1 436.85 392.40L448.39 384.33A88.00 88.00 0 0 0 443.71 378.23ZM433.97 394.42A70.40 70.40 0 0 1 437.27 399.60L443.37 396.08A77.44 77.44 0 0 0 439.74 390.38ZM445.50 386.34A84.48 84.48 0 0 1 449.46 392.56L455.56 389.04A91.52 91.52 0 0 0 451.27 382.31ZM422.03 408.40A52.80 52.80 0 0 1 424.15 412.49L430.53 409.51A59.84 59.84 0 0 0 428.12 404.88ZM434.22 401.36A66.88 66.88 0 0 1 436.91 406.54L443.29 403.56A73.92 73.92 0 0 0 440.32 397.84ZM433.97 475.18A70.40 70.40 0 0 1 430.23 480.05L438.32 486.84A80.96 80.96 0 0 0 442.62 481.24ZM422.14 473.26A59.84 59.84 0 0 1 418.61 477.11L431.06 489.56A77.44 77.44 0 0 0 435.62 484.58ZM416.12 474.62A56.32 56.32 0 0 1 412.50 477.94L417.03 483.34A63.36 63.36 0 0 0 421.10 479.60ZM404.57 475.17A49.28 49.28 0 0 1 400.94 477.48L402.70 480.53A52.80 52.80 0 0 0 406.58 478.05Z"/>
<path fill="#ffeb00" stroke="#ffeb00" stroke-width="0.3" d="M388.34 401.72A35.20 35.20 0 0 1 391.18 402.90L394.15 396.52A42.24 42.24 0 0 0 390.75 395.11ZM404.46 386.03A56.32 56.32 0 0 1 408.60 388.67L412.64 382.90A63.36 63.36 0 0 0 407.98 379.93ZM402.55 397.32A45.76 45.76 0 0 1 405.71 399.75L414.76 388.96A59.84 59.84 0 0 0 410.62 385.78ZM398.93 407.84A35.20 35.20 0 0 1 401.19 409.91L403.68 407.42A38.72 38.72 0 0 0 401.19 405.14ZM417.03 386.26A63.36 63.36 0 0 1 421.10 390.00L426.08 385.02A70.40 70.40 0 0 0 421.55 380.87ZM426.08 385.02A70.40 70.40 0 0 1 430.23 389.55L435.62 385.02A77.44 77.44 0 0 0 431.06 380.04ZM405.96 409.91A38.72 38.72 0 0 1 408.02 412.59L413.78 408.55A45.76 45.76 0 0 0 411.35 405.39ZM416.75 400.86A52.80 52.80 0 0 1 419.55 404.52L425.32 400.48A59.84 59.84 0 0 0 422.14 396.34ZM427.53 391.81A66.88 66.88 0 0 1 431.08 396.44L436.85 392.40A73.92 73.92 0 0 0 432.93 387.29ZM443.71 378.23A88.00 88.00 0 0 1 448.39 384.33L451.27 382.31A91.52 91.52 0 0 0 446.41 375.97ZM413.78 408.55A45.76 45.76 0 0 1 415.93 411.92L437.27 399.60A70.40 70.40 0 0 0 433.97 394.42ZM428.12 404.88A59.84 59.84 0 0 1 430.53 409.51L436.91 406.54A66.88 66.88 0 0 0 434.22 401.36Z"/>
<path fill="#eb0f00" stroke="#eb0f00" stroke-width="0.3" d="M391.18 402.90A35.20 35.20 0 0 1 393.90 404.32L395.66 401.27A38.72 38.72 0 0 0 392.66 399.71ZM393.90 404.32A35.20 35.20 0 0 1 396.49 405.97L398.51 403.08A38.72 38.72 0 0 0 395.66 401.27ZM396.49 405.97A35.20 35.20 0 0 1 398.93 407.84L401.19 405.14A38.72 38.72 0 0 0 398.51 403.08ZM401.19 459.69A35.20 35.20 0 0 1 398.93 461.76L401.19 464.46A38.72 38.72 0 0 0 403.68 462.18ZM398.93 461.76A35.20 35.20 0 0 1 396.49 463.63L398.51 466.52A38.72 38.72 0 0 0 401.19 464.46Z"/>
<path fill="#ff4600" stroke="#ff4600" stroke-width="0.3" d="M395.66 401.27A38.72 38.72 0 0 1 398.51 403.08L400.53 400.20A42.24 42.24 0 0 0 397.42 398.22ZM398.51 403.08A38.72 38.72 0 0 1 401.19 405.14L405.71 399.75A45.76 45.76 0 0 0 402.55 397.32ZM401.19 405.14A38.72 38.72 0 0 1 403.68 407.42L413.64 397.46A52.80 52.80 0 0 0 410.24 394.35ZM408.66 402.44A45.76 45.76 0 0 1 411.35 405.39L424.84 394.07A63.36 63.36 0 0 0 421.10 390.00ZM431.08 473.16A66.88 66.88 0 0 1 427.53 477.79L430.23 480.05A70.40 70.40 0 0 0 433.97 475.18Z"/>
<path fill="#5affaa" stroke="#5affaa" stroke-width="0.3" d="M400.94 392.12A49.28 49.28 0 0 1 404.57 394.43L408.60 388.67A56.32 56.32 0 0 0 404.46 386.03ZM418.54 361.64A84.48 84.48 0 0 1 424.76 365.60L428.79 359.83A91.52 91.52 0 0 0 422.06 355.54ZM422.74 368.48A80.96 80.96 0 0 1 428.34 372.78L432.87 367.39A88.00 88.00 0 0 0 426.77 362.71ZM421.55 380.87A70.40 70.40 0 0 1 426.08 385.02L431.06 380.04A77.44 77.44 0 0 0 426.08 375.48ZM432.87 367.39A88.00 88.00 0 0 1 438.53 372.57L441.01 370.09A91.52 91.52 0 0 0 435.13 364.69ZM403.26 412.17A35.20 35.20 0 0 1 405.13 414.61L408.02 412.59A38.72 38.72 0 0 0 405.96 409.91ZM408.02 412.59A38.72 38.72 0 0 1 409.83 415.44L415.93 411.92A45.76 45.76 0 0 0 413.78 408.55ZM439.74 390.38A77.44 77.44 0 0 1 443.37 396.08L449.46 392.56A84.48 84.48 0 0 0 445.50 386.34ZM415.93 411.92A45.76 45.76 0 0 1 417.77 415.46L424.15 412.49A52.80 52.80 0 0 0 422.03 408.40ZM440.32 397.84A73.92 73.92 0 0 1 443.29 403.56L449.67 400.58A80.96 80.96 0 0 0 446.41 394.32ZM452.51 390.80A88.00 88.00 0 0 1 456.06 397.61L459.25 396.12A91.52 91.52 0 0 0 455.56 389.04ZM430.53 409.51A59.84 59.84 0 0 1 432.53 414.33L439.15 411.93A66.88 66.88 0 0 0 436.91 406.54ZM449.67 400.58A80.96 80.96 0 0 1 452.38 407.11L458.99 404.70A88.00 88.00 0 0 0 456.06 397.61ZM405.13 454.99A35.20 35.20 0 0 1 403.26 457.43L405.96 459.69A38.72 38.72 0 0 0 408.02 457.01ZM403.26 457.43A35.20 35.20 0 0 1 401.19 459.69L403.68 462.18A38.72 38.72 0 0 0 405.96 459.69Z"/>
<path fill="#ff8c00" stroke="#ff8c00" stroke-width="0.3" d="M410.24 394.35A52.80 52.80 0 0 1 413.64 397.46L421.10 390.00A63.36 63.36 0 0 0 417.03 386.26ZM403.68 407.42A38.72 38.72 0 0 1 405.96 409.91L411.35 405.39A45.76 45.76 0 0 0 408.66 402.44ZM421.10 390.00A63.36 63.36 0 0 1 424.84 394.07L430.23 389.55A70.40 70.40 0 0 0 426.08 385.02ZM438.53 372.57A88.00 88.00 0 0 1 443.71 378.23L446.41 375.97A91.52 91.52 0 0 0 441.01 370.09ZM411.35 405.39A45.76 45.76 0 0 1 413.78 408.55L419.55 404.52A52.80 52.80 0 0 0 416.75 400.86ZM422.14 396.34A59.84 59.84 0 0 1 425.32 400.48L431.08 396.44A66.88 66.88 0 0 0 427.53 391.81Z"/>
<path fill="#050519" stroke="#050519" stroke-width="0.3" d="M411.50 434.80A35.20 35.20 0 0 1 411.37 437.87L414.87 438.17A38.72 38.72 0 0 0 415.02 434.80ZM411.37 437.87A35.20 35.20 0 0 1 410.97 440.91L414.43 441.52A38.72 38.72 0 0 0 414.87 438.17Z"/>
<path d="M382.41 469.47L394.64 538.80M388.34 467.88L412.42 534.03M393.90 465.28L429.10 526.25M398.93 461.76L444.18 515.69M403.26 457.43L457.19 502.68M406.78 452.40L467.75 487.60M409.38 446.84L475.53 470.92M410.97 440.91L480.30 453.14M410.97 428.69L480.30 416.46M409.38 422.76L475.53 398.68M406.78 417.20L467.75 382.00M403.26 412.17L457.19 366.92M398.93 407.84L444.18 353.91M393.90 404.32L429.10 343.35M388.34 401.72L412.42 335.57M382.41 400.13L394.64 330.80" stroke="#3a3a3a" stroke-width="0.75" stroke-dasharray="2.5 1.5" fill="none"/>
<path d="M401.19 409.91L402.17 409.59L403.17 409.30L404.18 409.03L405.19 408.78L406.22 408.56L407.25 408.36L408.30 408.19L409.34 408.04L410.40 407.92L411.45 407.83L412.51 407.76L413.58 407.72L414.64 407.70L415.71 407.72L416.77 407.76L417.83 407.83L418.89 407.93L419.94 408.06L420.99 408.21L422.03 408.40L423.06 408.61L424.08 408.86L425.10 409.13L426.10 409.43L427.09 409.75L428.07 410.11L429.03 410.49L429.97 410.90L430.90 411.34L431.82 411.80L432.71 412.29L433.58 412.81L434.44 413.35L435.27 413.92L436.08 414.51L436.86 415.12L437.62 415.76L438.36 416.42L439.06 417.10L439.75 417.80L440.40 418.52L441.02 419.26L441.62 420.02L442.18 420.80L442.72 421.59L443.22 422.40L443.69 423.22L444.13 424.06L444.54 424.91L444.91 425.77L445.25 426.64L445.55 427.52L445.82 428.41L446.05 429.31L446.25 430.22L446.41 431.13L446.54 432.04L446.63 432.96L446.68 433.88L446.70 434.80M401.19 459.69L402.17 460.01L403.17 460.30L404.18 460.57L405.19 460.82L406.22 461.04L407.25 461.24L408.30 461.41L409.34 461.56L410.40 461.68L411.45 461.77L412.51 461.84L413.58 461.88L414.64 461.90L415.71 461.88L416.77 461.84L417.83 461.77L418.89 461.67L419.94 461.54L420.99 461.39L422.03 461.20L423.06 460.99L424.08 460.74L425.10 460.47L426.10 460.17L427.09 459.85L428.07 459.49L429.03 459.11L429.97 458.70L430.90 458.26L431.82 457.80L432.71 457.31L433.58 456.79L434.44 456.25L435.27 455.68L436.08 455.09L436.86 454.48L437.62 453.84L438.36 453.18L439.06 452.50L439.75 451.80L440.40 451.08L441.02 450.34L441.62 449.58L442.18 448.80L442.72 448.01L443.22 447.20L443.69 446.38L444.13 445.54L444.54 444.69L444.91 443.83L445.25 442.96L445.55 442.08L445.82 441.19L446.05 440.29L446.25 439.38L446.41 438.47L446.54 437.56L446.63 436.64L446.68 435.72L446.70 434.80M396.62 406.06L398.02 405.10L399.46 404.17L400.94 403.26L402.47 402.38L404.04 401.53L405.65 400.72L407.30 399.95L408.98 399.22L410.69 398.52L412.44 397.87L414.22 397.27L416.03 396.72L417.86 396.21L419.71 395.76L421.59 395.36L423.48 395.02L425.39 394.73L427.31 394.50L429.24 394.32L431.17 394.21L433.11 394.16L435.05 394.17L436.99 394.24L438.93 394.37L440.86 394.57L442.77 394.83L444.67 395.16L446.56 395.55L448.42 396.00L450.26 396.51L452.08 397.09L453.86 397.73L455.62 398.43L457.34 399.20L459.02 400.02L460.66 400.90L462.26 401.84L463.81 402.83L465.31 403.88L466.76 404.98L468.16 406.13L469.50 407.33L470.78 408.58L472.00 409.88L473.16 411.22L474.25 412.60L475.28 414.01L476.24 415.47L477.13 416.96L477.94 418.48L478.69 420.03L479.35 421.60L479.95 423.20L480.46 424.82L480.90 426.46L481.26 428.11L481.54 429.77L481.74 431.44L481.86 433.12L481.90 434.80M393.90 404.32L395.54 402.79L397.25 401.27L399.05 399.77L400.92 398.30L402.87 396.86L404.89 395.45L406.99 394.07L409.16 392.74L411.39 391.46L413.69 390.24L416.06 389.06L418.48 387.95L420.96 386.90L423.50 385.93L426.08 385.02L428.71 384.19L431.38 383.44L434.09 382.77L436.83 382.19L439.59 381.69L442.39 381.28L445.20 380.97L448.02 380.75L450.85 380.63L453.69 380.61L456.53 380.69L459.36 380.86L462.17 381.14L464.97 381.52L467.75 382.00L467.75 382.00M388.75 401.87L390.84 398.57L393.13 395.18L395.63 391.73L398.34 388.23L401.26 384.69L404.40 381.13L407.75 377.56L411.32 374.00L415.11 370.47L419.10 366.97L423.31 363.53L427.72 360.16L432.33 356.88L437.14 353.69L440.97 351.32M388.75 467.73L390.84 471.03L393.13 474.42L395.63 477.87L398.34 481.37L401.26 484.91L404.40 488.47L407.75 492.04L411.32 495.60L415.11 499.13L419.10 502.63L423.31 506.07L427.72 509.44L432.33 512.72L437.14 515.91L440.97 518.28M385.71 400.88L388.08 395.64L390.81 390.11L393.90 384.34L397.37 378.35L401.24 372.15L405.52 365.80L410.22 359.31L415.34 352.71L420.89 346.05L425.18 341.20M385.71 468.72L388.08 473.96L390.81 479.49L393.90 485.26L397.37 491.25L401.24 497.45L405.52 503.80L410.22 510.29L415.34 516.89L420.89 523.55L425.18 528.40" stroke="#2a2a2a" stroke-width="0.8" fill="none"/>
<path d="M396.62 463.54L398.02 464.50L399.46 465.43L400.94 466.34L402.47 467.22L404.04 468.07L405.65 468.88L407.30 469.65L408.98 470.38L410.69 471.08L412.44 471.73L414.22 472.33L416.03 472.88L417.86 473.39L419.71 473.84L421.59 474.24L423.48 474.58L425.39 474.87L427.31 475.10L429.24 475.28L431.17 475.39L433.11 475.44L435.05 475.43L436.99 475.36L438.93 475.23L440.86 475.03L442.77 474.77L444.67 474.44L446.56 474.05L448.42 473.60L450.26 473.09L452.08 472.51L453.86 471.87L455.62 471.17L457.34 470.40L459.02 469.58L460.66 468.70L462.26 467.76L463.81 466.77L465.31 465.72L466.76 464.62L468.16 463.47L469.50 462.27L470.78 461.02L472.00 459.72L473.16 458.38L474.25 457.00L475.28 455.59L476.24 454.13L477.13 452.64L477.94 451.12L478.69 449.57L479.35 448.00L479.95 446.40L480.46 444.78L480.90 443.14L481.26 441.49L481.54 439.83L481.74 438.16L481.86 436.48L481.90 434.80M393.90 465.28L395.54 466.81L397.25 468.33L399.05 469.83L400.92 471.30L402.87 472.74L404.89 474.15L406.99 475.53L409.16 476.86L411.39 478.14L413.69 479.36L416.06 480.54L418.48 481.65L420.96 482.70L423.50 483.67L426.08 484.58L428.71 485.41L431.38 486.16L434.09 486.83L436.83 487.41L439.59 487.91L442.39 488.32L445.20 488.63L448.02 488.85L450.85 488.97L453.69 488.99L456.53 488.91L459.36 488.74L462.17 488.46L464.97 488.08L467.75 487.60L467.75 487.60" stroke="#34348c" stroke-width="0.8" fill="none"/>
<path d="M411.50 434.80L481.90 434.80" stroke="#3a3a96" stroke-width="1"/>
<path d="M376.30 364.40A70.40 70.40 0 0 1 376.30 505.20" stroke="#333" stroke-width="0.9" fill="none"/>
<path d="M376.30 399.60A35.20 35.20 0 0 1 376.30 470.00Z" fill="#fff" stroke="#222" stroke-width="1.2"/>
<path d="M376.30 329.20A105.60 105.60 0 0 1 376.30 540.40" stroke="#666" stroke-width="1.7" fill="none"/>
<path d="M376.30 328.40L376.30 541.20" stroke="#222" stroke-width="1.6"/>
<g font-family="Liberation Sans, sans-serif" font-size="4" font-weight="bold" fill="#222"><text x="378.5" y="405.3">14 8</text><text x="388.8" y="409.8">4 3</text><text x="387.3" y="414.3">L= 2</text></g>
<g font-family="Liberation Serif, serif" font-size="12.8" fill="#111">
<text x="0.7" y="32.7" font-weight="bold">MLat</text>
<text x="41.0" y="32.4">90° N</text>
<text x="132.1" y="72.8">40° N</text>
<text x="152.4" y="148.4" font-family="Liberation Sans, Arial, sans-serif" font-size="12">0°</text>
<text x="132.6" y="225.6" font-family="Liberation Sans, Arial, sans-serif" font-size="12">40° S</text>
<text x="39.3" y="263.6" font-family="Liberation Sans, Arial, sans-serif" font-size="12">90° S</text>
<text x="15.8" y="182.4" font-weight="bold">R<tspan font-size="8.5" dy="2.5">E</tspan></text>
<text x="9.9" y="215.5" font-weight="bold">2R<tspan font-size="8.5" dy="2.5">E</tspan></text>
<text x="9.5" y="253.1" font-weight="bold">3R<tspan font-size="8.5" dy="2.5">E</tspan></text>
<text x="1.3" y="316.7" font-weight="bold">MLat</text>
<text x="39.4" y="316.4">90° N</text>
<text x="132.7" y="356.8">40° N</text>
<text x="153.0" y="432.4" font-family="Liberation Sans, Arial, sans-serif" font-size="12">0°</text>
<text x="133.2" y="509.6" font-family="Liberation Sans, Arial, sans-serif" font-size="12">40° S</text>
<text x="39.9" y="547.6" font-family="Liberation Sans, Arial, sans-serif" font-size="12">90° S</text>
<text x="16.4" y="466.4" font-weight="bold">R<tspan font-size="8.5" dy="2.5">E</tspan></text>
<text x="10.5" y="499.5" font-weight="bold">2R<tspan font-size="8.5" dy="2.5">E</tspan></text>
<text x="10.1" y="537.1" font-weight="bold">3R<tspan font-size="8.5" dy="2.5">E</tspan></text>
<text x="336.7" y="324.5" font-weight="bold">MLat</text>
<text x="374.9" y="324.2">90° N</text>
<text x="468.1" y="364.6">40° N</text>
<text x="488.4" y="440.2" font-family="Liberation Sans, Arial, sans-serif" font-size="12">0°</text>
<text x="468.6" y="517.4" font-family="Liberation Sans, Arial, sans-serif" font-size="12">40° S</text>
<text x="375.3" y="555.4" font-family="Liberation Sans, Arial, sans-serif" font-size="12">90° S</text>
<text x="351.8" y="474.2" font-weight="bold">R<tspan font-size="8.5" dy="2.5">E</tspan></text>
<text x="345.9" y="507.3" font-weight="bold">2R<tspan font-size="8.5" dy="2.5">E</tspan></text>
<text x="345.5" y="544.9" font-weight="bold">3R<tspan font-size="8.5" dy="2.5">E</tspan></text>
</g>
<g font-family="Liberation Serif, serif" font-size="16" font-weight="bold" fill="#111"><text x="4" y="8.8">a</text><text x="4.3" y="293">b</text><text x="336.3" y="292">c</text></g>
<rect x="236.4" y="37.8" width="21.49999999999997" height="211.2" fill="url(#cm)" stroke="#111" stroke-width="1"/>
<path d="M236.4 90h3M257.9 90h-3" stroke="#111" stroke-width="1"/>
<path d="M236.4 143.3h3M257.9 143.3h-3" stroke="#111" stroke-width="1"/>
<path d="M236.4 196.7h3M257.9 196.7h-3" stroke="#111" stroke-width="1"/>
<rect x="235.5" y="322.1" width="21.899999999999977" height="212.29999999999995" fill="url(#cm)" stroke="#111" stroke-width="1"/>
<path d="M235.5 374.5h3M257.4 374.5h-3" stroke="#111" stroke-width="1"/>
<path d="M235.5 427.5h3M257.4 427.5h-3" stroke="#111" stroke-width="1"/>
<path d="M235.5 481h3M257.4 481h-3" stroke="#111" stroke-width="1"/>
<rect x="572" y="329.4" width="21.600000000000023" height="212.0" fill="url(#cm)" stroke="#111" stroke-width="1"/>
<path d="M572 382.2h3M593.6 382.2h-3" stroke="#111" stroke-width="1"/>
<path d="M572 435.3h3M593.6 435.3h-3" stroke="#111" stroke-width="1"/>
<path d="M572 488.3h3M593.6 488.3h-3" stroke="#111" stroke-width="1"/>
<g font-family="Liberation Serif, serif" font-size="12.5" fill="#111">
<text x="236" y="12.3" font-weight="bold">Data (x 10 s)</text>
<text x="303" y="48.3" text-anchor="end">1000</text>
<text x="303" y="92.3" text-anchor="end">750</text>
<text x="303" y="145.5" text-anchor="end">500</text>
<text x="303" y="198.6" text-anchor="end">250</text>
<text x="303" y="247.4" text-anchor="end">0</text>
<text x="235" y="289.7" font-weight="bold">Intensity</text><text x="235" y="304.3" font-weight="bold">dBT</text>
<text x="278.4" y="334.2">-260</text>
<text x="278.4" y="378.5">-267</text>
<text x="278.4" y="431">-275</text>
<text x="278.4" y="485">-282</text>
<text x="278.4" y="533">-290</text>
<text x="570.7" y="296.2" font-weight="bold">Intensity</text><text x="570.7" y="310.7" font-weight="bold">dBV/m</text>
<text x="615" y="341.6">-110</text>
<text x="615" y="386.4">-120</text>
<text x="615" y="439">-130</text>
<text x="615" y="492.8">-140</text>
<text x="615" y="540.6">-150</text>
</g>
<rect x="332.7" y="165.7" width="204.6" height="83" fill="none" stroke="#111" stroke-width="1.3"/>
<g font-family="Liberation Serif, serif" font-size="12.6" fill="#111"><text x="340.8" y="182.9">Data events</text><text x="340.8" y="197.6">B-fields detected events</text><text x="340.8" y="212.5">E-fields detected events</text><text x="340.8" y="243">10 seconds PFX data = 1 event</text><g font-weight="bold" font-size="12.4"><text x="492.3" y="182.9">190865</text><text x="492.3" y="197.6">42858</text><text x="492.3" y="212.5">54488</text></g></g>
</svg>
</body></html>
